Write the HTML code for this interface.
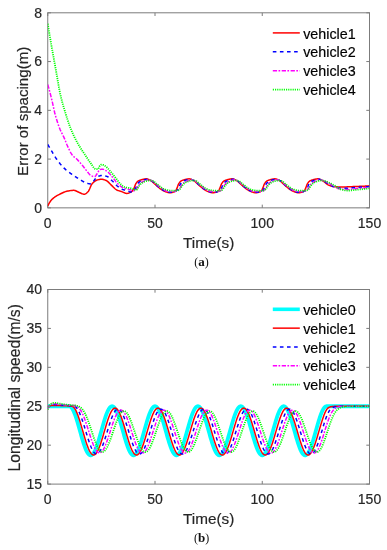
<!DOCTYPE html>
<html lang="en"><head><meta charset="utf-8"><title>Figure</title>
<style>html,body{margin:0;padding:0;background:#fff}svg{display:block}</style></head>
<body>
<svg width="387" height="550" viewBox="0 0 387 550">
<rect width="387" height="550" fill="#ffffff"/>
<g stroke="#7c7c7c" stroke-width="1" fill="none">
<rect x="47.75" y="12.8" width="321.75" height="195.04999999999998"/>
<path d="M47.75 207.85v-3.2M47.75 12.8v3.2"/>
<path d="M155.00 207.85v-3.2M155.00 12.8v3.2"/>
<path d="M262.25 207.85v-3.2M262.25 12.8v3.2"/>
<path d="M369.50 207.85v-3.2M369.50 12.8v3.2"/>
<path d="M47.75 207.85h3.2M369.5 207.85h-3.2"/>
<path d="M47.75 159.09h3.2M369.5 159.09h-3.2"/>
<path d="M47.75 110.33h3.2M369.5 110.33h-3.2"/>
<path d="M47.75 61.56h3.2M369.5 61.56h-3.2"/>
<path d="M47.75 12.80h3.2M369.5 12.80h-3.2"/>
</g>
<g font-family="'Liberation Sans', Arial, Helvetica, sans-serif" font-size="14" fill="#262626" stroke="#262626" stroke-width="0.18">
<text x="47.75" y="227.55" text-anchor="middle">0</text>
<text x="155.00" y="227.55" text-anchor="middle">50</text>
<text x="262.25" y="227.55" text-anchor="middle">100</text>
<text x="369.50" y="227.55" text-anchor="middle">150</text>
<text x="42.15" y="212.75" text-anchor="end">0</text>
<text x="42.15" y="163.99" text-anchor="end">2</text>
<text x="42.15" y="115.23" text-anchor="end">4</text>
<text x="42.15" y="66.46" text-anchor="end">6</text>
<text x="42.15" y="17.70" text-anchor="end">8</text>
</g>
<g font-family="'Liberation Sans', Arial, Helvetica, sans-serif" font-size="15.3" fill="#262626" stroke="#262626" stroke-width="0.18">
<text x="208.62" y="247.65" text-anchor="middle">Time(s)</text>
<text transform="translate(28.4 111.3) rotate(-90)" text-anchor="middle" font-size="15.1">Error of spacing(m)</text>
</g>
<clipPath id="ca"><rect x="47.75" y="12.8" width="321.75" height="195.04999999999998"/></clipPath>
<g fill="none" stroke-width="1.5" stroke-linejoin="round" clip-path="url(#ca)">
<polyline stroke="#ff0000"  points="47.75,205.80 48.29,204.83 48.82,203.88 49.36,202.96 49.90,202.09 50.43,201.27 50.97,200.53 51.50,199.87 52.04,199.31 52.58,198.82 53.11,198.35 53.65,197.91 54.19,197.49 54.72,197.10 55.26,196.73 55.79,196.38 56.33,196.04 56.87,195.72 57.40,195.42 57.94,195.13 58.48,194.84 59.01,194.57 59.55,194.30 60.08,194.03 60.62,193.76 61.16,193.49 61.69,193.23 62.23,192.97 62.77,192.72 63.30,192.48 63.84,192.25 64.37,192.03 64.91,191.83 65.45,191.64 65.98,191.47 66.52,191.32 67.06,191.19 67.59,191.08 68.13,190.99 68.66,190.89 69.20,190.80 69.74,190.71 70.27,190.63 70.81,190.56 71.34,190.49 71.88,190.43 72.42,190.39 72.95,190.36 73.49,190.34 74.03,190.33 74.56,190.39 75.10,190.52 75.64,190.71 76.17,190.95 76.71,191.21 77.24,191.50 77.78,191.78 78.32,192.05 78.85,192.29 79.39,192.50 79.92,192.73 80.46,192.97 81.00,193.22 81.53,193.47 82.07,193.69 82.61,193.89 83.14,194.05 83.68,194.15 84.22,194.20 84.75,194.14 85.29,193.95 85.82,193.66 86.36,193.28 86.90,192.82 87.43,192.32 87.97,191.80 88.50,191.17 89.04,190.22 89.58,189.03 90.11,187.73 90.65,186.43 91.19,185.23 91.72,184.27 92.26,183.62 92.80,183.05 93.33,182.52 93.87,182.02 94.40,181.57 94.94,181.16 95.48,180.80 96.01,180.49 96.55,180.24 97.09,180.05 97.62,179.90 98.16,179.75 98.69,179.62 99.23,179.51 99.77,179.41 100.30,179.33 100.84,179.27 101.38,179.25 101.91,179.25 102.45,179.31 102.98,179.40 103.52,179.53 104.06,179.70 104.59,179.88 105.13,180.08 105.66,180.30 106.20,180.53 106.74,180.80 107.27,181.16 107.81,181.60 108.35,182.09 108.88,182.63 109.42,183.19 109.95,183.75 110.49,184.31 111.03,184.84 111.56,185.34 112.10,185.85 112.64,186.39 113.17,186.94 113.71,187.49 114.25,188.02 114.78,188.53 115.32,188.99 115.85,189.40 116.39,189.73 116.93,190.00 117.46,190.23 118.00,190.44 118.53,190.62 119.07,190.80 119.61,190.96 120.14,191.12 120.68,191.28 121.22,191.45 121.75,191.63 122.29,191.84 122.83,192.07 123.36,192.32 123.90,192.57 124.43,192.81 124.97,193.02 125.51,193.20 126.04,193.34 126.58,193.41 127.11,193.42 127.65,193.36 128.19,193.24 128.72,193.08 129.26,192.88 129.80,192.64 130.33,192.36 130.87,192.07 131.41,191.76 131.94,191.36 132.48,190.80 133.01,190.11 133.55,189.32 134.09,188.18 134.62,186.67 135.16,185.14 135.69,183.96 136.23,183.10 136.77,182.34 137.30,181.72 137.84,181.27 138.38,180.95 138.91,180.67 139.45,180.42 139.99,180.21 140.52,180.02 141.06,179.85 141.59,179.70 142.13,179.57 142.67,179.44 143.20,179.31 143.74,179.19 144.28,179.07 144.81,178.98 145.35,178.90 145.88,178.85 146.42,178.84 146.96,178.88 147.49,178.99 148.03,179.17 148.56,179.40 149.10,179.66 149.64,179.95 150.17,180.25 150.71,180.54 151.25,180.87 151.78,181.27 152.32,181.72 152.86,182.21 153.39,182.72 153.93,183.23 154.46,183.73 155.00,184.20 155.54,184.66 156.07,185.13 156.61,185.61 157.14,186.10 157.68,186.58 158.22,187.06 158.75,187.53 159.29,187.98 159.83,188.42 160.36,188.83 160.90,189.21 161.44,189.56 161.97,189.90 162.51,190.22 163.04,190.53 163.58,190.83 164.12,191.10 164.65,191.35 165.19,191.57 165.72,191.76 166.26,191.93 166.80,192.10 167.33,192.26 167.87,192.41 168.41,192.54 168.94,192.64 169.48,192.71 170.01,192.73 170.55,192.72 171.09,192.66 171.62,192.58 172.16,192.47 172.70,192.32 173.23,192.16 173.77,191.97 174.31,191.76 174.84,191.41 175.38,190.85 175.91,190.13 176.45,189.32 176.99,188.18 177.52,186.67 178.06,185.14 178.59,183.96 179.13,183.10 179.67,182.34 180.20,181.72 180.74,181.27 181.28,180.95 181.81,180.67 182.35,180.42 182.88,180.21 183.42,180.02 183.96,179.85 184.49,179.70 185.03,179.57 185.57,179.44 186.10,179.31 186.64,179.19 187.18,179.07 187.71,178.98 188.25,178.90 188.78,178.85 189.32,178.84 189.86,178.88 190.39,178.99 190.93,179.17 191.47,179.40 192.00,179.66 192.54,179.95 193.07,180.25 193.61,180.54 194.15,180.87 194.68,181.27 195.22,181.72 195.75,182.21 196.29,182.72 196.83,183.23 197.36,183.73 197.90,184.20 198.44,184.66 198.97,185.13 199.51,185.61 200.04,186.10 200.58,186.58 201.12,187.06 201.65,187.53 202.19,187.98 202.73,188.42 203.26,188.83 203.80,189.21 204.34,189.56 204.87,189.90 205.41,190.22 205.94,190.53 206.48,190.83 207.02,191.10 207.55,191.35 208.09,191.57 208.62,191.76 209.16,191.93 209.70,192.10 210.23,192.26 210.77,192.41 211.31,192.54 211.84,192.64 212.38,192.71 212.91,192.73 213.45,192.72 213.99,192.66 214.52,192.58 215.06,192.47 215.60,192.32 216.13,192.16 216.67,191.97 217.21,191.76 217.74,191.41 218.28,190.85 218.81,190.13 219.35,189.32 219.89,188.18 220.42,186.67 220.96,185.14 221.50,183.96 222.03,183.10 222.57,182.34 223.10,181.72 223.64,181.27 224.18,180.95 224.71,180.67 225.25,180.42 225.78,180.21 226.32,180.02 226.86,179.85 227.39,179.70 227.93,179.57 228.47,179.44 229.00,179.31 229.54,179.19 230.07,179.07 230.61,178.98 231.15,178.90 231.68,178.85 232.22,178.84 232.76,178.88 233.29,178.99 233.83,179.17 234.37,179.40 234.90,179.66 235.44,179.95 235.97,180.25 236.51,180.54 237.05,180.87 237.58,181.27 238.12,181.72 238.66,182.21 239.19,182.72 239.73,183.23 240.26,183.73 240.80,184.20 241.34,184.66 241.87,185.13 242.41,185.61 242.94,186.10 243.48,186.58 244.02,187.06 244.55,187.53 245.09,187.98 245.63,188.42 246.16,188.83 246.70,189.21 247.24,189.56 247.77,189.90 248.31,190.22 248.84,190.53 249.38,190.83 249.92,191.10 250.45,191.35 250.99,191.57 251.53,191.76 252.06,191.93 252.60,192.10 253.13,192.26 253.67,192.41 254.21,192.54 254.74,192.64 255.28,192.71 255.81,192.73 256.35,192.72 256.89,192.66 257.42,192.58 257.96,192.47 258.50,192.32 259.03,192.16 259.57,191.97 260.11,191.76 260.64,191.41 261.18,190.85 261.71,190.13 262.25,189.32 262.79,188.18 263.32,186.67 263.86,185.14 264.39,183.96 264.93,183.10 265.47,182.34 266.00,181.72 266.54,181.27 267.08,180.95 267.61,180.67 268.15,180.42 268.69,180.21 269.22,180.02 269.76,179.85 270.29,179.70 270.83,179.57 271.37,179.44 271.90,179.31 272.44,179.19 272.98,179.07 273.51,178.98 274.05,178.90 274.58,178.85 275.12,178.84 275.66,178.88 276.19,178.99 276.73,179.17 277.26,179.40 277.80,179.66 278.34,179.95 278.87,180.25 279.41,180.54 279.95,180.87 280.48,181.27 281.02,181.72 281.56,182.21 282.09,182.72 282.63,183.23 283.16,183.73 283.70,184.20 284.24,184.66 284.77,185.13 285.31,185.61 285.85,186.10 286.38,186.58 286.92,187.06 287.45,187.53 287.99,187.98 288.53,188.42 289.06,188.83 289.60,189.21 290.13,189.56 290.67,189.90 291.21,190.22 291.74,190.53 292.28,190.83 292.82,191.10 293.35,191.35 293.89,191.57 294.43,191.76 294.96,191.93 295.50,192.10 296.03,192.26 296.57,192.41 297.11,192.54 297.64,192.64 298.18,192.71 298.72,192.73 299.25,192.72 299.79,192.66 300.32,192.58 300.86,192.47 301.40,192.32 301.93,192.16 302.47,191.97 303.00,191.76 303.54,191.41 304.08,190.85 304.61,190.13 305.15,189.32 305.69,188.18 306.22,186.67 306.76,185.14 307.30,183.96 307.83,183.10 308.37,182.34 308.90,181.72 309.44,181.27 309.98,180.95 310.51,180.67 311.05,180.42 311.58,180.21 312.12,180.02 312.66,179.85 313.19,179.70 313.73,179.57 314.27,179.44 314.80,179.31 315.34,179.19 315.88,179.07 316.41,178.98 316.95,178.90 317.48,178.85 318.02,178.84 318.56,178.88 319.09,179.00 319.63,179.19 320.17,179.42 320.70,179.69 321.24,179.97 321.77,180.26 322.31,180.54 322.85,180.84 323.38,181.20 323.92,181.60 324.45,182.04 324.99,182.49 325.53,182.95 326.06,183.40 326.60,183.84 327.14,184.25 327.67,184.62 328.21,184.93 328.75,185.18 329.28,185.38 329.82,185.58 330.35,185.77 330.89,185.95 331.43,186.11 331.96,186.26 332.50,186.39 333.04,186.49 333.57,186.58 334.11,186.64 334.64,186.68 335.18,186.73 335.72,186.77 336.25,186.80 336.79,186.84 337.32,186.87 337.86,186.90 338.40,186.93 338.93,186.95 339.47,186.97 340.01,186.98 340.54,187.00 341.08,187.00 341.62,187.00 342.15,187.00 342.69,187.00 343.22,186.99 343.76,186.98 344.30,186.97 344.83,186.95 345.37,186.93 345.90,186.91 346.44,186.89 346.98,186.87 347.51,186.85 348.05,186.83 348.59,186.80 349.12,186.78 349.66,186.75 350.19,186.73 350.73,186.70 351.27,186.68 351.80,186.66 352.34,186.64 352.88,186.62 353.41,186.60 353.95,186.58 354.49,186.56 355.02,186.54 355.56,186.51 356.09,186.49 356.63,186.47 357.17,186.45 357.70,186.43 358.24,186.41 358.77,186.38 359.31,186.36 359.85,186.34 360.38,186.32 360.92,186.29 361.46,186.27 361.99,186.25 362.53,186.23 363.06,186.20 363.60,186.18 364.14,186.15 364.67,186.13 365.21,186.11 365.75,186.08 366.28,186.06 366.82,186.03 367.36,186.01 367.89,185.98 368.43,185.96 368.96,185.93 369.50,185.91"/>
<polyline stroke="#0000ff" stroke-dasharray="3.6 3.5" points="47.75,144.44 48.29,145.37 48.82,146.30 49.36,147.22 49.90,148.14 50.43,149.04 50.97,149.95 51.50,150.84 52.04,151.73 52.58,152.62 53.11,153.52 53.65,154.41 54.19,155.31 54.72,156.19 55.26,157.06 55.79,157.90 56.33,158.71 56.87,159.49 57.40,160.24 57.94,160.96 58.48,161.68 59.01,162.37 59.55,163.05 60.08,163.72 60.62,164.37 61.16,165.00 61.69,165.61 62.23,166.20 62.77,166.77 63.30,167.33 63.84,167.86 64.37,168.37 64.91,168.87 65.45,169.35 65.98,169.82 66.52,170.27 67.06,170.72 67.59,171.15 68.13,171.58 68.66,171.99 69.20,172.40 69.74,172.81 70.27,173.21 70.81,173.60 71.34,173.98 71.88,174.36 72.42,174.73 72.95,175.10 73.49,175.46 74.03,175.82 74.56,176.17 75.10,176.51 75.64,176.86 76.17,177.19 76.71,177.53 77.24,177.86 77.78,178.19 78.32,178.52 78.85,178.86 79.39,179.20 79.92,179.54 80.46,179.88 81.00,180.22 81.53,180.55 82.07,180.87 82.61,181.18 83.14,181.48 83.68,181.76 84.22,182.03 84.75,182.27 85.29,182.49 85.82,182.69 86.36,182.89 86.90,183.10 87.43,183.29 87.97,183.48 88.50,183.63 89.04,183.76 89.58,183.85 90.11,183.88 90.65,183.80 91.19,183.48 91.72,183.00 92.26,182.43 92.80,181.84 93.33,181.29 93.87,180.70 94.40,180.03 94.94,179.30 95.48,178.59 96.01,177.93 96.55,177.37 97.09,176.98 97.62,176.71 98.16,176.47 98.69,176.24 99.23,176.02 99.77,175.84 100.30,175.67 100.84,175.54 101.38,175.45 101.91,175.39 102.45,175.38 102.98,175.40 103.52,175.47 104.06,175.56 104.59,175.68 105.13,175.83 105.66,175.99 106.20,176.17 106.74,176.37 107.27,176.57 107.81,176.80 108.35,177.11 108.88,177.51 109.42,177.97 109.95,178.49 110.49,179.04 111.03,179.61 111.56,180.18 112.10,180.74 112.64,181.27 113.17,181.79 113.71,182.35 114.25,182.92 114.78,183.50 115.32,184.08 115.85,184.64 116.39,185.19 116.93,185.70 117.46,186.17 118.00,186.58 118.53,186.98 119.07,187.36 119.61,187.73 120.14,188.09 120.68,188.42 121.22,188.74 121.75,189.02 122.29,189.27 122.83,189.49 123.36,189.68 123.90,189.83 124.43,189.96 124.97,190.07 125.51,190.18 126.04,190.29 126.58,190.40 127.11,190.53 127.65,190.68 128.19,190.85 128.72,191.15 129.26,191.53 129.80,191.86 130.33,192.00 130.87,191.96 131.41,191.83 131.94,191.64 132.48,191.39 133.01,191.10 133.55,190.78 134.09,190.30 134.62,189.59 135.16,188.75 135.69,187.86 136.23,186.80 136.77,185.56 137.30,184.37 137.84,183.47 138.38,182.84 138.91,182.31 139.45,181.87 139.99,181.52 140.52,181.22 141.06,180.95 141.59,180.70 142.13,180.47 142.67,180.27 143.20,180.09 143.74,179.94 144.28,179.81 144.81,179.70 145.35,179.58 145.88,179.48 146.42,179.40 146.96,179.34 147.49,179.32 148.03,179.36 148.56,179.47 149.10,179.64 149.64,179.85 150.17,180.08 150.71,180.34 151.25,180.60 151.78,180.92 152.32,181.32 152.86,181.78 153.39,182.29 153.93,182.81 154.46,183.33 155.00,183.83 155.54,184.29 156.07,184.74 156.61,185.19 157.14,185.65 157.68,186.11 158.22,186.57 158.75,187.02 159.29,187.46 159.83,187.88 160.36,188.29 160.90,188.68 161.44,189.05 161.97,189.39 162.51,189.72 163.04,190.04 163.58,190.36 164.12,190.66 164.65,190.93 165.19,191.18 165.72,191.38 166.26,191.54 166.80,191.69 167.33,191.83 167.87,191.96 168.41,192.08 168.94,192.17 169.48,192.23 170.01,192.25 170.55,192.24 171.09,192.21 171.62,192.17 172.16,192.13 172.70,192.07 173.23,192.00 173.77,191.91 174.31,191.77 174.84,191.59 175.38,191.36 175.91,191.09 176.45,190.78 176.99,190.30 177.52,189.59 178.06,188.75 178.59,187.86 179.13,186.80 179.67,185.56 180.20,184.37 180.74,183.47 181.28,182.84 181.81,182.31 182.35,181.87 182.88,181.52 183.42,181.22 183.96,180.95 184.49,180.70 185.03,180.47 185.57,180.27 186.10,180.09 186.64,179.94 187.18,179.81 187.71,179.70 188.25,179.58 188.78,179.48 189.32,179.40 189.86,179.34 190.39,179.32 190.93,179.36 191.47,179.47 192.00,179.64 192.54,179.85 193.07,180.08 193.61,180.34 194.15,180.60 194.68,180.92 195.22,181.32 195.75,181.78 196.29,182.29 196.83,182.81 197.36,183.33 197.90,183.83 198.44,184.29 198.97,184.74 199.51,185.19 200.04,185.65 200.58,186.11 201.12,186.57 201.65,187.02 202.19,187.46 202.73,187.88 203.26,188.29 203.80,188.68 204.34,189.05 204.87,189.39 205.41,189.72 205.94,190.04 206.48,190.36 207.02,190.66 207.55,190.93 208.09,191.18 208.62,191.38 209.16,191.54 209.70,191.69 210.23,191.83 210.77,191.96 211.31,192.08 211.84,192.17 212.38,192.23 212.91,192.25 213.45,192.24 213.99,192.21 214.52,192.17 215.06,192.13 215.60,192.07 216.13,192.00 216.67,191.91 217.21,191.77 217.74,191.59 218.28,191.36 218.81,191.09 219.35,190.78 219.89,190.30 220.42,189.59 220.96,188.75 221.50,187.86 222.03,186.80 222.57,185.56 223.10,184.37 223.64,183.47 224.18,182.84 224.71,182.31 225.25,181.87 225.78,181.52 226.32,181.22 226.86,180.95 227.39,180.70 227.93,180.47 228.47,180.27 229.00,180.09 229.54,179.94 230.07,179.81 230.61,179.70 231.15,179.58 231.68,179.48 232.22,179.40 232.76,179.34 233.29,179.32 233.83,179.36 234.37,179.47 234.90,179.64 235.44,179.85 235.97,180.08 236.51,180.34 237.05,180.60 237.58,180.92 238.12,181.32 238.66,181.78 239.19,182.29 239.73,182.81 240.26,183.33 240.80,183.83 241.34,184.29 241.87,184.74 242.41,185.19 242.94,185.65 243.48,186.11 244.02,186.57 244.55,187.02 245.09,187.46 245.63,187.88 246.16,188.29 246.70,188.68 247.24,189.05 247.77,189.39 248.31,189.72 248.84,190.04 249.38,190.36 249.92,190.66 250.45,190.93 250.99,191.18 251.53,191.38 252.06,191.54 252.60,191.69 253.13,191.83 253.67,191.96 254.21,192.08 254.74,192.17 255.28,192.23 255.81,192.25 256.35,192.24 256.89,192.21 257.42,192.17 257.96,192.13 258.50,192.07 259.03,192.00 259.57,191.91 260.11,191.77 260.64,191.59 261.18,191.36 261.71,191.09 262.25,190.78 262.79,190.30 263.32,189.59 263.86,188.75 264.39,187.86 264.93,186.80 265.47,185.56 266.00,184.37 266.54,183.47 267.08,182.84 267.61,182.31 268.15,181.87 268.69,181.52 269.22,181.22 269.76,180.95 270.29,180.70 270.83,180.47 271.37,180.27 271.90,180.09 272.44,179.94 272.98,179.81 273.51,179.70 274.05,179.58 274.58,179.48 275.12,179.40 275.66,179.34 276.19,179.32 276.73,179.36 277.26,179.47 277.80,179.64 278.34,179.85 278.87,180.08 279.41,180.34 279.95,180.60 280.48,180.92 281.02,181.32 281.56,181.78 282.09,182.29 282.63,182.81 283.16,183.33 283.70,183.83 284.24,184.29 284.77,184.74 285.31,185.19 285.85,185.65 286.38,186.11 286.92,186.57 287.45,187.02 287.99,187.46 288.53,187.88 289.06,188.29 289.60,188.68 290.13,189.05 290.67,189.39 291.21,189.72 291.74,190.04 292.28,190.36 292.82,190.66 293.35,190.93 293.89,191.18 294.43,191.38 294.96,191.54 295.50,191.69 296.03,191.83 296.57,191.96 297.11,192.08 297.64,192.17 298.18,192.23 298.72,192.25 299.25,192.24 299.79,192.21 300.32,192.17 300.86,192.13 301.40,192.07 301.93,192.00 302.47,191.91 303.00,191.77 303.54,191.59 304.08,191.36 304.61,191.09 305.15,190.78 305.69,190.30 306.22,189.59 306.76,188.75 307.30,187.86 307.83,186.80 308.37,185.56 308.90,184.37 309.44,183.47 309.98,182.84 310.51,182.31 311.05,181.87 311.58,181.52 312.12,181.22 312.66,180.95 313.19,180.70 313.73,180.47 314.27,180.27 314.80,180.09 315.34,179.94 315.88,179.81 316.41,179.70 316.95,179.58 317.48,179.48 318.02,179.40 318.56,179.34 319.09,179.32 319.63,179.37 320.17,179.49 320.70,179.66 321.24,179.88 321.77,180.12 322.31,180.36 322.85,180.59 323.38,180.83 323.92,181.11 324.45,181.41 324.99,181.73 325.53,182.06 326.06,182.41 326.60,182.77 327.14,183.13 327.67,183.49 328.21,183.85 328.75,184.20 329.28,184.53 329.82,184.85 330.35,185.15 330.89,185.42 331.43,185.68 331.96,185.95 332.50,186.22 333.04,186.48 333.57,186.73 334.11,186.96 334.64,187.17 335.18,187.36 335.72,187.50 336.25,187.61 336.79,187.70 337.32,187.78 337.86,187.86 338.40,187.94 338.93,188.01 339.47,188.07 340.01,188.13 340.54,188.19 341.08,188.23 341.62,188.27 342.15,188.30 342.69,188.33 343.22,188.34 343.76,188.34 344.30,188.34 344.83,188.33 345.37,188.32 345.90,188.29 346.44,188.27 346.98,188.23 347.51,188.20 348.05,188.16 348.59,188.12 349.12,188.07 349.66,188.03 350.19,187.98 350.73,187.93 351.27,187.88 351.80,187.83 352.34,187.79 352.88,187.74 353.41,187.70 353.95,187.65 354.49,187.61 355.02,187.58 355.56,187.54 356.09,187.50 356.63,187.46 357.17,187.42 357.70,187.39 358.24,187.35 358.77,187.31 359.31,187.27 359.85,187.23 360.38,187.19 360.92,187.15 361.46,187.11 361.99,187.08 362.53,187.04 363.06,187.00 363.60,186.96 364.14,186.92 364.67,186.88 365.21,186.84 365.75,186.80 366.28,186.76 366.82,186.72 367.36,186.68 367.89,186.64 368.43,186.60 368.96,186.56 369.50,186.52"/>
<polyline stroke="#ff00ff" stroke-dasharray="4.3 1.4 1.7 1.5" points="47.75,84.48 48.29,86.34 48.82,88.26 49.36,90.22 49.90,92.24 50.43,94.29 50.97,96.40 51.50,98.54 52.04,100.73 52.58,103.09 53.11,105.56 53.65,108.06 54.19,110.48 54.72,112.74 55.26,114.77 55.79,116.69 56.33,118.55 56.87,120.33 57.40,122.04 57.94,123.68 58.48,125.24 59.01,126.72 59.55,128.12 60.08,129.43 60.62,130.65 61.16,131.79 61.69,132.88 62.23,133.94 62.77,135.00 63.30,136.08 63.84,137.19 64.37,138.36 64.91,139.62 65.45,140.97 65.98,142.35 66.52,143.71 67.06,145.01 67.59,146.20 68.13,147.35 68.66,148.50 69.20,149.63 69.74,150.72 70.27,151.77 70.81,152.76 71.34,153.68 71.88,154.51 72.42,155.24 72.95,155.86 73.49,156.39 74.03,156.85 74.56,157.28 75.10,157.68 75.64,158.10 76.17,158.55 76.71,159.05 77.24,159.59 77.78,160.14 78.32,160.71 78.85,161.30 79.39,161.89 79.92,162.50 80.46,163.12 81.00,163.74 81.53,164.37 82.07,165.00 82.61,165.65 83.14,166.32 83.68,167.00 84.22,167.69 84.75,168.38 85.29,169.06 85.82,169.74 86.36,170.40 86.90,171.04 87.43,171.71 87.97,172.43 88.50,173.14 89.04,173.82 89.58,174.44 90.11,174.95 90.65,175.34 91.19,175.61 91.72,175.87 92.26,176.11 92.80,176.32 93.33,176.49 93.87,176.60 94.40,176.66 94.94,176.57 95.48,176.10 96.01,175.37 96.55,174.52 97.09,173.71 97.62,172.90 98.16,171.91 98.69,170.93 99.23,170.14 99.77,169.71 100.30,169.53 100.84,169.38 101.38,169.27 101.91,169.21 102.45,169.19 102.98,169.25 103.52,169.39 104.06,169.59 104.59,169.85 105.13,170.15 105.66,170.49 106.20,170.85 106.74,171.23 107.27,171.60 107.81,171.99 108.35,172.44 108.88,172.95 109.42,173.52 109.95,174.13 110.49,174.77 111.03,175.43 111.56,176.09 112.10,176.75 112.64,177.39 113.17,178.04 113.71,178.73 114.25,179.44 114.78,180.17 115.32,180.89 115.85,181.60 116.39,182.29 116.93,182.93 117.46,183.51 118.00,184.03 118.53,184.53 119.07,185.02 119.61,185.49 120.14,185.93 120.68,186.36 121.22,186.75 121.75,187.10 122.29,187.41 122.83,187.68 123.36,187.90 123.90,188.09 124.43,188.28 124.97,188.44 125.51,188.60 126.04,188.74 126.58,188.87 127.11,189.00 127.65,189.13 128.19,189.25 128.72,189.38 129.26,189.51 129.80,189.64 130.33,189.80 130.87,189.96 131.41,190.12 131.94,190.28 132.48,190.43 133.01,190.56 133.55,190.66 134.09,190.74 134.62,190.78 135.16,190.69 135.69,190.17 136.23,189.37 136.77,188.43 137.30,187.53 137.84,186.69 138.38,185.74 138.91,184.82 139.45,184.07 139.99,183.53 140.52,183.07 141.06,182.66 141.59,182.31 142.13,182.01 142.67,181.73 143.20,181.49 143.74,181.26 144.28,181.05 144.81,180.86 145.35,180.68 145.88,180.51 146.42,180.32 146.96,180.14 147.49,179.97 148.03,179.86 148.56,179.81 149.10,179.85 149.64,179.94 150.17,180.08 150.71,180.26 151.25,180.46 151.78,180.66 152.32,180.93 152.86,181.29 153.39,181.73 153.93,182.21 154.46,182.71 155.00,183.22 155.54,183.69 156.07,184.13 156.61,184.55 157.14,184.98 157.68,185.42 158.22,185.85 158.75,186.28 159.29,186.71 159.83,187.12 160.36,187.53 160.90,187.91 161.44,188.28 161.97,188.63 162.51,188.96 163.04,189.30 163.58,189.63 164.12,189.95 164.65,190.25 165.19,190.53 165.72,190.76 166.26,190.95 166.80,191.07 167.33,191.19 167.87,191.29 168.41,191.38 168.94,191.45 169.48,191.50 170.01,191.51 170.55,191.51 171.09,191.51 171.62,191.51 172.16,191.51 172.70,191.51 173.23,191.51 173.77,191.51 174.31,191.51 174.84,191.49 175.38,191.43 175.91,191.34 176.45,191.21 176.99,191.05 177.52,190.86 178.06,190.59 178.59,190.03 179.13,189.25 179.67,188.38 180.20,187.53 180.74,186.69 181.28,185.74 181.81,184.82 182.35,184.07 182.88,183.53 183.42,183.07 183.96,182.66 184.49,182.31 185.03,182.01 185.57,181.73 186.10,181.49 186.64,181.26 187.18,181.05 187.71,180.86 188.25,180.68 188.78,180.51 189.32,180.32 189.86,180.14 190.39,179.97 190.93,179.86 191.47,179.81 192.00,179.85 192.54,179.94 193.07,180.08 193.61,180.26 194.15,180.46 194.68,180.66 195.22,180.93 195.75,181.29 196.29,181.73 196.83,182.21 197.36,182.71 197.90,183.22 198.44,183.69 198.97,184.13 199.51,184.55 200.04,184.98 200.58,185.42 201.12,185.85 201.65,186.28 202.19,186.71 202.73,187.12 203.26,187.53 203.80,187.91 204.34,188.28 204.87,188.63 205.41,188.96 205.94,189.30 206.48,189.63 207.02,189.95 207.55,190.25 208.09,190.53 208.62,190.76 209.16,190.95 209.70,191.07 210.23,191.19 210.77,191.29 211.31,191.38 211.84,191.45 212.38,191.50 212.91,191.51 213.45,191.51 213.99,191.51 214.52,191.51 215.06,191.51 215.60,191.51 216.13,191.51 216.67,191.51 217.21,191.51 217.74,191.49 218.28,191.43 218.81,191.34 219.35,191.21 219.89,191.05 220.42,190.86 220.96,190.59 221.50,190.03 222.03,189.25 222.57,188.38 223.10,187.53 223.64,186.69 224.18,185.74 224.71,184.82 225.25,184.07 225.78,183.53 226.32,183.07 226.86,182.66 227.39,182.31 227.93,182.01 228.47,181.73 229.00,181.49 229.54,181.26 230.07,181.05 230.61,180.86 231.15,180.68 231.68,180.51 232.22,180.32 232.76,180.14 233.29,179.97 233.83,179.86 234.37,179.81 234.90,179.85 235.44,179.94 235.97,180.08 236.51,180.26 237.05,180.46 237.58,180.66 238.12,180.93 238.66,181.29 239.19,181.73 239.73,182.21 240.26,182.71 240.80,183.22 241.34,183.69 241.87,184.13 242.41,184.55 242.94,184.98 243.48,185.42 244.02,185.85 244.55,186.28 245.09,186.71 245.63,187.12 246.16,187.53 246.70,187.91 247.24,188.28 247.77,188.63 248.31,188.96 248.84,189.30 249.38,189.63 249.92,189.95 250.45,190.25 250.99,190.53 251.53,190.76 252.06,190.95 252.60,191.07 253.13,191.19 253.67,191.29 254.21,191.38 254.74,191.45 255.28,191.50 255.81,191.51 256.35,191.51 256.89,191.51 257.42,191.51 257.96,191.51 258.50,191.51 259.03,191.51 259.57,191.51 260.11,191.51 260.64,191.49 261.18,191.43 261.71,191.34 262.25,191.21 262.79,191.05 263.32,190.86 263.86,190.59 264.39,190.03 264.93,189.25 265.47,188.38 266.00,187.53 266.54,186.69 267.08,185.74 267.61,184.82 268.15,184.07 268.69,183.53 269.22,183.07 269.76,182.66 270.29,182.31 270.83,182.01 271.37,181.73 271.90,181.49 272.44,181.26 272.98,181.05 273.51,180.86 274.05,180.68 274.58,180.51 275.12,180.32 275.66,180.14 276.19,179.97 276.73,179.86 277.26,179.81 277.80,179.85 278.34,179.94 278.87,180.08 279.41,180.26 279.95,180.46 280.48,180.66 281.02,180.93 281.56,181.29 282.09,181.73 282.63,182.21 283.16,182.71 283.70,183.22 284.24,183.69 284.77,184.13 285.31,184.55 285.85,184.98 286.38,185.42 286.92,185.85 287.45,186.28 287.99,186.71 288.53,187.12 289.06,187.53 289.60,187.91 290.13,188.28 290.67,188.63 291.21,188.96 291.74,189.30 292.28,189.63 292.82,189.95 293.35,190.25 293.89,190.53 294.43,190.76 294.96,190.95 295.50,191.07 296.03,191.19 296.57,191.29 297.11,191.38 297.64,191.45 298.18,191.50 298.72,191.51 299.25,191.51 299.79,191.51 300.32,191.51 300.86,191.51 301.40,191.51 301.93,191.51 302.47,191.51 303.00,191.51 303.54,191.49 304.08,191.43 304.61,191.34 305.15,191.21 305.69,191.05 306.22,190.86 306.76,190.59 307.30,190.03 307.83,189.25 308.37,188.38 308.90,187.53 309.44,186.69 309.98,185.74 310.51,184.82 311.05,184.07 311.58,183.53 312.12,183.07 312.66,182.66 313.19,182.31 313.73,182.01 314.27,181.73 314.80,181.49 315.34,181.26 315.88,181.05 316.41,180.86 316.95,180.68 317.48,180.51 318.02,180.32 318.56,180.14 319.09,179.97 319.63,179.86 320.17,179.81 320.70,179.85 321.24,179.95 321.77,180.10 322.31,180.28 322.85,180.48 323.38,180.66 323.92,180.85 324.45,181.06 324.99,181.29 325.53,181.53 326.06,181.79 326.60,182.06 327.14,182.34 327.67,182.63 328.21,182.92 328.75,183.23 329.28,183.53 329.82,183.84 330.35,184.15 330.89,184.46 331.43,184.77 331.96,185.08 332.50,185.37 333.04,185.66 333.57,185.97 334.11,186.30 334.64,186.64 335.18,186.99 335.72,187.34 336.25,187.67 336.79,187.97 337.32,188.23 337.86,188.44 338.40,188.59 338.93,188.70 339.47,188.81 340.01,188.92 340.54,189.02 341.08,189.11 341.62,189.20 342.15,189.28 342.69,189.35 343.22,189.41 343.76,189.47 344.30,189.51 344.83,189.54 345.37,189.56 345.90,189.56 346.44,189.56 346.98,189.55 347.51,189.52 348.05,189.49 348.59,189.46 349.12,189.42 349.66,189.37 350.19,189.32 350.73,189.26 351.27,189.20 351.80,189.14 352.34,189.08 352.88,189.01 353.41,188.95 353.95,188.88 354.49,188.82 355.02,188.76 355.56,188.70 356.09,188.64 356.63,188.59 357.17,188.54 357.70,188.49 358.24,188.44 358.77,188.39 359.31,188.34 359.85,188.29 360.38,188.24 360.92,188.19 361.46,188.14 361.99,188.09 362.53,188.04 363.06,187.99 363.60,187.93 364.14,187.88 364.67,187.83 365.21,187.78 365.75,187.73 366.28,187.68 366.82,187.63 367.36,187.58 367.89,187.53 368.43,187.47 368.96,187.42 369.50,187.37"/>
<polyline stroke="#00ff00" stroke-width="1.8" stroke-dasharray="1.15 1.05" points="47.75,23.77 48.29,27.00 48.82,30.20 49.36,33.38 49.90,36.54 50.43,39.66 50.97,42.76 51.50,45.84 52.04,48.87 52.58,51.87 53.11,54.84 53.65,57.79 54.19,60.72 54.72,63.65 55.26,66.57 55.79,69.51 56.33,72.49 56.87,75.56 57.40,78.68 57.94,81.79 58.48,84.85 59.01,87.82 59.55,90.63 60.08,93.26 60.62,95.65 61.16,97.90 61.69,100.02 62.23,102.05 62.77,104.00 63.30,105.88 63.84,107.71 64.37,109.51 64.91,111.30 65.45,113.08 65.98,114.83 66.52,116.55 67.06,118.25 67.59,119.90 68.13,121.52 68.66,123.08 69.20,124.60 69.74,126.06 70.27,127.46 70.81,128.82 71.34,130.13 71.88,131.41 72.42,132.66 72.95,133.87 73.49,135.05 74.03,136.19 74.56,137.31 75.10,138.39 75.64,139.45 76.17,140.48 76.71,141.48 77.24,142.45 77.78,143.40 78.32,144.33 78.85,145.24 79.39,146.13 79.92,147.02 80.46,147.89 81.00,148.74 81.53,149.58 82.07,150.39 82.61,151.19 83.14,151.97 83.68,152.76 84.22,153.54 84.75,154.32 85.29,155.11 85.82,155.92 86.36,156.74 86.90,157.57 87.43,158.41 87.97,159.25 88.50,160.07 89.04,160.89 89.58,161.67 90.11,162.43 90.65,163.16 91.19,163.89 91.72,164.68 92.26,165.50 92.80,166.32 93.33,167.09 93.87,167.80 94.40,168.39 94.94,168.85 95.48,169.12 96.01,169.19 96.55,169.19 97.09,169.19 97.62,169.19 98.16,169.10 98.69,168.16 99.23,166.82 99.77,165.84 100.30,165.29 100.84,164.83 101.38,164.57 101.91,164.57 102.45,164.68 102.98,164.86 103.52,165.09 104.06,165.37 104.59,165.66 105.13,165.95 105.66,166.31 106.20,166.75 106.74,167.25 107.27,167.79 107.81,168.38 108.35,168.99 108.88,169.61 109.42,170.23 109.95,170.84 110.49,171.44 111.03,172.07 111.56,172.73 112.10,173.40 112.64,174.08 113.17,174.77 113.71,175.46 114.25,176.15 114.78,176.84 115.32,177.52 115.85,178.20 116.39,178.91 116.93,179.63 117.46,180.35 118.00,181.06 118.53,181.75 119.07,182.41 119.61,183.03 120.14,183.61 120.68,184.14 121.22,184.66 121.75,185.18 122.29,185.68 122.83,186.12 123.36,186.51 123.90,186.82 124.43,187.02 124.97,187.18 125.51,187.32 126.04,187.44 126.58,187.54 127.11,187.63 127.65,187.71 128.19,187.79 128.72,187.87 129.26,187.96 129.80,188.06 130.33,188.17 130.87,188.30 131.41,188.47 131.94,188.67 132.48,188.90 133.01,189.14 133.55,189.38 134.09,189.60 134.62,189.79 135.16,189.94 135.69,190.03 136.23,190.04 136.77,189.70 137.30,188.98 137.84,188.06 138.38,187.08 138.91,186.20 139.45,185.50 139.99,184.82 140.52,184.19 141.06,183.65 141.59,183.23 142.13,182.86 142.67,182.54 143.20,182.25 143.74,181.99 144.28,181.76 144.81,181.56 145.35,181.37 145.88,181.19 146.42,181.04 146.96,180.90 147.49,180.79 148.03,180.68 148.56,180.58 149.10,180.49 149.64,180.44 150.17,180.42 150.71,180.46 151.25,180.53 151.78,180.64 152.32,180.76 152.86,180.91 153.39,181.13 153.93,181.47 154.46,181.90 155.00,182.39 155.54,182.88 156.07,183.36 156.61,183.79 157.14,184.21 157.68,184.64 158.22,185.08 158.75,185.52 159.29,185.96 159.83,186.39 160.36,186.81 160.90,187.21 161.44,187.58 161.97,187.92 162.51,188.23 163.04,188.51 163.58,188.77 164.12,189.02 164.65,189.26 165.19,189.48 165.72,189.68 166.26,189.85 166.80,190.00 167.33,190.12 167.87,190.23 168.41,190.33 168.94,190.42 169.48,190.49 170.01,190.54 170.55,190.58 171.09,190.62 171.62,190.65 172.16,190.68 172.70,190.71 173.23,190.74 173.77,190.76 174.31,190.77 174.84,190.78 175.38,190.78 175.91,190.76 176.45,190.71 176.99,190.62 177.52,190.51 178.06,190.37 178.59,190.20 179.13,190.00 179.67,189.55 180.20,188.83 180.74,187.95 181.28,187.03 181.81,186.19 182.35,185.50 182.88,184.82 183.42,184.19 183.96,183.65 184.49,183.23 185.03,182.86 185.57,182.54 186.10,182.25 186.64,181.99 187.18,181.76 187.71,181.56 188.25,181.37 188.78,181.19 189.32,181.04 189.86,180.90 190.39,180.79 190.93,180.68 191.47,180.58 192.00,180.49 192.54,180.44 193.07,180.42 193.61,180.46 194.15,180.53 194.68,180.64 195.22,180.76 195.75,180.91 196.29,181.13 196.83,181.47 197.36,181.90 197.90,182.39 198.44,182.88 198.97,183.36 199.51,183.79 200.04,184.21 200.58,184.64 201.12,185.08 201.65,185.52 202.19,185.96 202.73,186.39 203.26,186.81 203.80,187.21 204.34,187.58 204.87,187.92 205.41,188.23 205.94,188.51 206.48,188.77 207.02,189.02 207.55,189.26 208.09,189.48 208.62,189.68 209.16,189.85 209.70,190.00 210.23,190.12 210.77,190.23 211.31,190.33 211.84,190.42 212.38,190.49 212.91,190.54 213.45,190.58 213.99,190.62 214.52,190.65 215.06,190.68 215.60,190.71 216.13,190.74 216.67,190.76 217.21,190.77 217.74,190.78 218.28,190.78 218.81,190.76 219.35,190.71 219.89,190.62 220.42,190.51 220.96,190.37 221.50,190.20 222.03,190.00 222.57,189.55 223.10,188.83 223.64,187.95 224.18,187.03 224.71,186.19 225.25,185.50 225.78,184.82 226.32,184.19 226.86,183.65 227.39,183.23 227.93,182.86 228.47,182.54 229.00,182.25 229.54,181.99 230.07,181.76 230.61,181.56 231.15,181.37 231.68,181.19 232.22,181.04 232.76,180.90 233.29,180.79 233.83,180.68 234.37,180.58 234.90,180.49 235.44,180.44 235.97,180.42 236.51,180.46 237.05,180.53 237.58,180.64 238.12,180.76 238.66,180.91 239.19,181.13 239.73,181.47 240.26,181.90 240.80,182.39 241.34,182.88 241.87,183.36 242.41,183.79 242.94,184.21 243.48,184.64 244.02,185.08 244.55,185.52 245.09,185.96 245.63,186.39 246.16,186.81 246.70,187.21 247.24,187.58 247.77,187.92 248.31,188.23 248.84,188.51 249.38,188.77 249.92,189.02 250.45,189.26 250.99,189.48 251.53,189.68 252.06,189.85 252.60,190.00 253.13,190.12 253.67,190.23 254.21,190.33 254.74,190.42 255.28,190.49 255.81,190.54 256.35,190.58 256.89,190.62 257.42,190.65 257.96,190.68 258.50,190.71 259.03,190.74 259.57,190.76 260.11,190.77 260.64,190.78 261.18,190.78 261.71,190.76 262.25,190.71 262.79,190.62 263.32,190.51 263.86,190.37 264.39,190.20 264.93,190.00 265.47,189.55 266.00,188.83 266.54,187.95 267.08,187.03 267.61,186.19 268.15,185.50 268.69,184.82 269.22,184.19 269.76,183.65 270.29,183.23 270.83,182.86 271.37,182.54 271.90,182.25 272.44,181.99 272.98,181.76 273.51,181.56 274.05,181.37 274.58,181.19 275.12,181.04 275.66,180.90 276.19,180.79 276.73,180.68 277.26,180.58 277.80,180.49 278.34,180.44 278.87,180.42 279.41,180.46 279.95,180.53 280.48,180.64 281.02,180.76 281.56,180.91 282.09,181.13 282.63,181.47 283.16,181.90 283.70,182.39 284.24,182.88 284.77,183.36 285.31,183.79 285.85,184.21 286.38,184.64 286.92,185.08 287.45,185.52 287.99,185.96 288.53,186.39 289.06,186.81 289.60,187.21 290.13,187.58 290.67,187.92 291.21,188.23 291.74,188.51 292.28,188.77 292.82,189.02 293.35,189.26 293.89,189.48 294.43,189.68 294.96,189.85 295.50,190.00 296.03,190.12 296.57,190.23 297.11,190.33 297.64,190.42 298.18,190.49 298.72,190.54 299.25,190.58 299.79,190.62 300.32,190.65 300.86,190.68 301.40,190.71 301.93,190.74 302.47,190.76 303.00,190.77 303.54,190.78 304.08,190.78 304.61,190.76 305.15,190.71 305.69,190.62 306.22,190.51 306.76,190.37 307.30,190.20 307.83,190.00 308.37,189.55 308.90,188.83 309.44,187.95 309.98,187.03 310.51,186.19 311.05,185.50 311.58,184.82 312.12,184.19 312.66,183.65 313.19,183.23 313.73,182.86 314.27,182.54 314.80,182.25 315.34,181.99 315.88,181.76 316.41,181.56 316.95,181.37 317.48,181.19 318.02,181.04 318.56,180.90 319.09,180.79 319.63,180.68 320.17,180.58 320.70,180.49 321.24,180.44 321.77,180.42 322.31,180.46 322.85,180.54 323.38,180.65 323.92,180.78 324.45,180.91 324.99,181.04 325.53,181.20 326.06,181.37 326.60,181.56 327.14,181.77 327.67,181.99 328.21,182.22 328.75,182.47 329.28,182.72 329.82,182.99 330.35,183.26 330.89,183.54 331.43,183.83 331.96,184.12 332.50,184.42 333.04,184.72 333.57,185.01 334.11,185.31 334.64,185.61 335.18,185.91 335.72,186.23 336.25,186.59 336.79,186.99 337.32,187.39 337.86,187.80 338.40,188.19 338.93,188.56 339.47,188.88 340.01,189.13 340.54,189.32 341.08,189.46 341.62,189.60 342.15,189.73 342.69,189.85 343.22,189.97 343.76,190.08 344.30,190.18 344.83,190.27 345.37,190.35 345.90,190.41 346.44,190.47 346.98,190.51 347.51,190.53 348.05,190.54 348.59,190.53 349.12,190.52 349.66,190.50 350.19,190.47 350.73,190.44 351.27,190.40 351.80,190.35 352.34,190.30 352.88,190.25 353.41,190.19 353.95,190.13 354.49,190.06 355.02,190.00 355.56,189.93 356.09,189.87 356.63,189.80 357.17,189.74 357.70,189.68 358.24,189.62 358.77,189.56 359.31,189.51 359.85,189.45 360.38,189.40 360.92,189.34 361.46,189.28 361.99,189.23 362.53,189.17 363.06,189.11 363.60,189.05 364.14,188.99 364.67,188.93 365.21,188.86 365.75,188.80 366.28,188.74 366.82,188.67 367.36,188.61 367.89,188.54 368.43,188.48 368.96,188.41 369.50,188.34"/>
</g>
<g fill="none" stroke-width="1.5">
<path d="M272.8 32.90H299.8" stroke="#ff0000" />
<path d="M272.8 51.80H299.8" stroke="#0000ff" stroke-dasharray="3.6 3.5"/>
<path d="M272.8 70.70H299.8" stroke="#ff00ff" stroke-dasharray="4.3 1.4 1.7 1.5"/>
<path d="M272.8 89.60H299.8" stroke="#00ff00" stroke-width="1.8" stroke-dasharray="1.15 1.05"/>
</g>
<g font-family="'Liberation Sans', Arial, Helvetica, sans-serif" font-size="14.3" fill="#000000" stroke="#000000" stroke-width="0.18">
<text x="303.2" y="38.50">vehicle1</text>
<text x="303.2" y="57.40">vehicle2</text>
<text x="303.2" y="76.30">vehicle3</text>
<text x="303.2" y="95.20">vehicle4</text>
</g>
<text x="201.6" y="266" text-anchor="middle" font-family="'Liberation Serif', 'Times New Roman', serif" font-size="12" fill="#111">(<tspan font-weight="bold" font-size="13">a</tspan>)</text>
<g stroke="#7c7c7c" stroke-width="1" fill="none">
<rect x="47.75" y="289.5" width="321.75" height="194.60000000000002"/>
<path d="M47.75 484.1v-3.2M47.75 289.5v3.2"/>
<path d="M155.00 484.1v-3.2M155.00 289.5v3.2"/>
<path d="M262.25 484.1v-3.2M262.25 289.5v3.2"/>
<path d="M369.50 484.1v-3.2M369.50 289.5v3.2"/>
<path d="M47.75 484.10h3.2M369.5 484.10h-3.2"/>
<path d="M47.75 445.18h3.2M369.5 445.18h-3.2"/>
<path d="M47.75 406.26h3.2M369.5 406.26h-3.2"/>
<path d="M47.75 367.34h3.2M369.5 367.34h-3.2"/>
<path d="M47.75 328.42h3.2M369.5 328.42h-3.2"/>
<path d="M47.75 289.50h3.2M369.5 289.50h-3.2"/>
</g>
<g font-family="'Liberation Sans', Arial, Helvetica, sans-serif" font-size="14" fill="#262626" stroke="#262626" stroke-width="0.18">
<text x="47.75" y="503.80" text-anchor="middle">0</text>
<text x="155.00" y="503.80" text-anchor="middle">50</text>
<text x="262.25" y="503.80" text-anchor="middle">100</text>
<text x="369.50" y="503.80" text-anchor="middle">150</text>
<text x="42.15" y="489.00" text-anchor="end">15</text>
<text x="42.15" y="450.08" text-anchor="end">20</text>
<text x="42.15" y="411.16" text-anchor="end">25</text>
<text x="42.15" y="372.24" text-anchor="end">30</text>
<text x="42.15" y="333.32" text-anchor="end">35</text>
<text x="42.15" y="294.40" text-anchor="end">40</text>
</g>
<g font-family="'Liberation Sans', Arial, Helvetica, sans-serif" font-size="15.3" fill="#262626" stroke="#262626" stroke-width="0.18">
<text x="208.62" y="523.90" text-anchor="middle">Time(s)</text>
<text transform="translate(19.6 387.8) rotate(-90)" text-anchor="middle" font-size="15.7">Longitudinal speed(m/s)</text>
</g>
<clipPath id="cb"><rect x="47.75" y="289.5" width="321.75" height="194.60000000000002"/></clipPath>
<g fill="none" stroke-width="1.5" stroke-linejoin="round" clip-path="url(#cb)">
<polyline stroke="#00ffff" stroke-width="3.8"  points="47.75,406.26 48.18,406.26 48.61,406.26 49.04,406.26 49.47,406.26 49.90,406.26 50.32,406.26 50.75,406.26 51.18,406.26 51.61,406.26 52.04,406.26 52.47,406.26 52.90,406.26 53.33,406.26 53.76,406.26 54.19,406.26 54.61,406.26 55.04,406.26 55.47,406.26 55.90,406.26 56.33,406.26 56.76,406.26 57.19,406.26 57.62,406.26 58.05,406.26 58.48,406.26 58.90,406.26 59.33,406.26 59.76,406.26 60.19,406.26 60.62,406.26 61.05,406.26 61.48,406.26 61.91,406.26 62.34,406.26 62.77,406.26 63.19,406.26 63.62,406.26 64.05,406.26 64.48,406.26 64.91,406.26 65.34,406.26 65.77,406.26 66.20,406.26 66.63,406.26 67.06,406.26 67.48,406.26 67.91,406.26 68.34,406.26 68.77,406.26 69.20,406.26 69.63,406.31 70.06,406.45 70.49,406.69 70.92,407.03 71.34,407.46 71.77,407.98 72.20,408.59 72.63,409.29 73.06,410.08 73.49,410.94 73.92,411.89 74.35,412.91 74.78,413.99 75.21,415.15 75.64,416.37 76.06,417.64 76.49,418.97 76.92,420.34 77.35,421.75 77.78,423.20 78.21,424.68 78.64,426.19 79.07,427.71 79.50,429.24 79.92,430.78 80.35,432.32 80.78,433.85 81.21,435.37 81.64,436.88 82.07,438.36 82.50,439.81 82.93,441.22 83.36,442.59 83.79,443.92 84.22,445.19 84.64,446.41 85.07,447.56 85.50,448.65 85.93,449.67 86.36,450.62 86.79,451.48 87.22,452.27 87.65,452.97 88.08,453.58 88.50,454.10 88.93,454.53 89.36,454.86 89.79,455.11 90.22,455.25 90.65,455.30 91.08,455.25 91.51,455.11 91.94,454.86 92.37,454.53 92.80,454.10 93.22,453.58 93.65,452.97 94.08,452.27 94.51,451.48 94.94,450.62 95.37,449.67 95.80,448.65 96.23,447.56 96.66,446.41 97.09,445.19 97.51,443.92 97.94,442.59 98.37,441.22 98.80,439.81 99.23,438.36 99.66,436.88 100.09,435.37 100.52,433.85 100.95,432.32 101.38,430.78 101.80,429.24 102.23,427.71 102.66,426.19 103.09,424.68 103.52,423.20 103.95,421.75 104.38,420.34 104.81,418.97 105.24,417.64 105.66,416.37 106.09,415.15 106.52,413.99 106.95,412.91 107.38,411.89 107.81,410.94 108.24,410.08 108.67,409.29 109.10,408.59 109.53,407.98 109.95,407.46 110.38,407.03 110.81,406.69 111.24,406.45 111.67,406.31 112.10,406.26 112.53,406.31 112.96,406.45 113.39,406.69 113.82,407.03 114.25,407.46 114.67,407.98 115.10,408.59 115.53,409.29 115.96,410.08 116.39,410.94 116.82,411.89 117.25,412.91 117.68,413.99 118.11,415.15 118.53,416.37 118.96,417.64 119.39,418.97 119.82,420.34 120.25,421.75 120.68,423.20 121.11,424.68 121.54,426.19 121.97,427.71 122.40,429.24 122.83,430.78 123.25,432.32 123.68,433.85 124.11,435.37 124.54,436.88 124.97,438.36 125.40,439.81 125.83,441.22 126.26,442.59 126.69,443.92 127.11,445.19 127.54,446.41 127.97,447.56 128.40,448.65 128.83,449.67 129.26,450.62 129.69,451.48 130.12,452.27 130.55,452.97 130.98,453.58 131.41,454.10 131.83,454.53 132.26,454.86 132.69,455.11 133.12,455.25 133.55,455.30 133.98,455.25 134.41,455.11 134.84,454.86 135.27,454.53 135.69,454.10 136.12,453.58 136.55,452.97 136.98,452.27 137.41,451.48 137.84,450.62 138.27,449.67 138.70,448.65 139.13,447.56 139.56,446.41 139.99,445.19 140.41,443.92 140.84,442.59 141.27,441.22 141.70,439.81 142.13,438.36 142.56,436.88 142.99,435.37 143.42,433.85 143.85,432.32 144.28,430.78 144.70,429.24 145.13,427.71 145.56,426.19 145.99,424.68 146.42,423.20 146.85,421.75 147.28,420.34 147.71,418.97 148.14,417.64 148.56,416.37 148.99,415.15 149.42,413.99 149.85,412.91 150.28,411.89 150.71,410.94 151.14,410.08 151.57,409.29 152.00,408.59 152.43,407.98 152.86,407.46 153.28,407.03 153.71,406.69 154.14,406.45 154.57,406.31 155.00,406.26 155.43,406.31 155.86,406.45 156.29,406.69 156.72,407.03 157.14,407.46 157.57,407.98 158.00,408.59 158.43,409.29 158.86,410.08 159.29,410.94 159.72,411.89 160.15,412.91 160.58,413.99 161.01,415.15 161.44,416.37 161.86,417.64 162.29,418.97 162.72,420.34 163.15,421.75 163.58,423.20 164.01,424.68 164.44,426.19 164.87,427.71 165.30,429.24 165.72,430.78 166.15,432.32 166.58,433.85 167.01,435.37 167.44,436.88 167.87,438.36 168.30,439.81 168.73,441.22 169.16,442.59 169.59,443.92 170.01,445.19 170.44,446.41 170.87,447.56 171.30,448.65 171.73,449.67 172.16,450.62 172.59,451.48 173.02,452.27 173.45,452.97 173.88,453.58 174.31,454.10 174.73,454.53 175.16,454.86 175.59,455.11 176.02,455.25 176.45,455.30 176.88,455.25 177.31,455.11 177.74,454.86 178.17,454.53 178.59,454.10 179.02,453.58 179.45,452.97 179.88,452.27 180.31,451.48 180.74,450.62 181.17,449.67 181.60,448.65 182.03,447.56 182.46,446.41 182.88,445.19 183.31,443.92 183.74,442.59 184.17,441.22 184.60,439.81 185.03,438.36 185.46,436.88 185.89,435.37 186.32,433.85 186.75,432.32 187.18,430.78 187.60,429.24 188.03,427.71 188.46,426.19 188.89,424.68 189.32,423.20 189.75,421.75 190.18,420.34 190.61,418.97 191.04,417.64 191.47,416.37 191.89,415.15 192.32,413.99 192.75,412.91 193.18,411.89 193.61,410.94 194.04,410.08 194.47,409.29 194.90,408.59 195.33,407.98 195.75,407.46 196.18,407.03 196.61,406.69 197.04,406.45 197.47,406.31 197.90,406.26 198.33,406.31 198.76,406.45 199.19,406.69 199.62,407.03 200.04,407.46 200.47,407.98 200.90,408.59 201.33,409.29 201.76,410.08 202.19,410.94 202.62,411.89 203.05,412.91 203.48,413.99 203.91,415.15 204.34,416.37 204.76,417.64 205.19,418.97 205.62,420.34 206.05,421.75 206.48,423.20 206.91,424.68 207.34,426.19 207.77,427.71 208.20,429.24 208.62,430.78 209.05,432.32 209.48,433.85 209.91,435.37 210.34,436.88 210.77,438.36 211.20,439.81 211.63,441.22 212.06,442.59 212.49,443.92 212.91,445.19 213.34,446.41 213.77,447.56 214.20,448.65 214.63,449.67 215.06,450.62 215.49,451.48 215.92,452.27 216.35,452.97 216.78,453.58 217.21,454.10 217.63,454.53 218.06,454.86 218.49,455.11 218.92,455.25 219.35,455.30 219.78,455.25 220.21,455.11 220.64,454.86 221.07,454.53 221.50,454.10 221.92,453.58 222.35,452.97 222.78,452.27 223.21,451.48 223.64,450.62 224.07,449.67 224.50,448.65 224.93,447.56 225.36,446.41 225.78,445.19 226.21,443.92 226.64,442.59 227.07,441.22 227.50,439.81 227.93,438.36 228.36,436.88 228.79,435.37 229.22,433.85 229.65,432.32 230.07,430.78 230.50,429.24 230.93,427.71 231.36,426.19 231.79,424.68 232.22,423.20 232.65,421.75 233.08,420.34 233.51,418.97 233.94,417.64 234.37,416.37 234.79,415.15 235.22,413.99 235.65,412.91 236.08,411.89 236.51,410.94 236.94,410.08 237.37,409.29 237.80,408.59 238.23,407.98 238.66,407.46 239.08,407.03 239.51,406.69 239.94,406.45 240.37,406.31 240.80,406.26 241.23,406.31 241.66,406.45 242.09,406.69 242.52,407.03 242.94,407.46 243.37,407.98 243.80,408.59 244.23,409.29 244.66,410.08 245.09,410.94 245.52,411.89 245.95,412.91 246.38,413.99 246.81,415.15 247.24,416.37 247.66,417.64 248.09,418.97 248.52,420.34 248.95,421.75 249.38,423.20 249.81,424.68 250.24,426.19 250.67,427.71 251.10,429.24 251.53,430.78 251.95,432.32 252.38,433.85 252.81,435.37 253.24,436.88 253.67,438.36 254.10,439.81 254.53,441.22 254.96,442.59 255.39,443.92 255.81,445.19 256.24,446.41 256.67,447.56 257.10,448.65 257.53,449.67 257.96,450.62 258.39,451.48 258.82,452.27 259.25,452.97 259.68,453.58 260.11,454.10 260.53,454.53 260.96,454.86 261.39,455.11 261.82,455.25 262.25,455.30 262.68,455.25 263.11,455.11 263.54,454.86 263.97,454.53 264.39,454.10 264.82,453.58 265.25,452.97 265.68,452.27 266.11,451.48 266.54,450.62 266.97,449.67 267.40,448.65 267.83,447.56 268.26,446.41 268.69,445.19 269.11,443.92 269.54,442.59 269.97,441.22 270.40,439.81 270.83,438.36 271.26,436.88 271.69,435.37 272.12,433.85 272.55,432.32 272.98,430.78 273.40,429.24 273.83,427.71 274.26,426.19 274.69,424.68 275.12,423.20 275.55,421.75 275.98,420.34 276.41,418.97 276.84,417.64 277.26,416.37 277.69,415.15 278.12,413.99 278.55,412.91 278.98,411.89 279.41,410.94 279.84,410.08 280.27,409.29 280.70,408.59 281.13,407.98 281.56,407.46 281.98,407.03 282.41,406.69 282.84,406.45 283.27,406.31 283.70,406.26 284.13,406.31 284.56,406.45 284.99,406.69 285.42,407.03 285.85,407.46 286.27,407.98 286.70,408.59 287.13,409.29 287.56,410.08 287.99,410.94 288.42,411.89 288.85,412.91 289.28,413.99 289.71,415.15 290.13,416.37 290.56,417.64 290.99,418.97 291.42,420.34 291.85,421.75 292.28,423.20 292.71,424.68 293.14,426.19 293.57,427.71 294.00,429.24 294.43,430.78 294.85,432.32 295.28,433.85 295.71,435.37 296.14,436.88 296.57,438.36 297.00,439.81 297.43,441.22 297.86,442.59 298.29,443.92 298.72,445.19 299.14,446.41 299.57,447.56 300.00,448.65 300.43,449.67 300.86,450.62 301.29,451.48 301.72,452.27 302.15,452.97 302.58,453.58 303.00,454.10 303.43,454.53 303.86,454.86 304.29,455.11 304.72,455.25 305.15,455.30 305.58,455.25 306.01,455.11 306.44,454.86 306.87,454.53 307.30,454.10 307.72,453.58 308.15,452.97 308.58,452.27 309.01,451.48 309.44,450.62 309.87,449.67 310.30,448.65 310.73,447.56 311.16,446.41 311.58,445.19 312.01,443.92 312.44,442.59 312.87,441.22 313.30,439.81 313.73,438.36 314.16,436.88 314.59,435.37 315.02,433.85 315.45,432.32 315.88,430.78 316.30,429.24 316.73,427.71 317.16,426.19 317.59,424.68 318.02,423.20 318.45,421.75 318.88,420.34 319.31,418.97 319.74,417.64 320.17,416.37 320.59,415.15 321.02,413.99 321.45,412.91 321.88,411.89 322.31,410.94 322.74,410.08 323.17,409.29 323.60,408.59 324.03,407.98 324.45,407.46 324.88,407.03 325.31,406.69 325.74,406.45 326.17,406.31 326.60,406.26 327.03,406.26 327.46,406.26 327.89,406.26 328.32,406.26 328.75,406.26 329.17,406.26 329.60,406.26 330.03,406.26 330.46,406.26 330.89,406.26 331.32,406.26 331.75,406.26 332.18,406.26 332.61,406.26 333.04,406.26 333.46,406.26 333.89,406.26 334.32,406.26 334.75,406.26 335.18,406.26 335.61,406.26 336.04,406.26 336.47,406.26 336.90,406.26 337.32,406.26 337.75,406.26 338.18,406.26 338.61,406.26 339.04,406.26 339.47,406.26 339.90,406.26 340.33,406.26 340.76,406.26 341.19,406.26 341.62,406.26 342.04,406.26 342.47,406.26 342.90,406.26 343.33,406.26 343.76,406.26 344.19,406.26 344.62,406.26 345.05,406.26 345.48,406.26 345.90,406.26 346.33,406.26 346.76,406.26 347.19,406.26 347.62,406.26 348.05,406.26 348.48,406.26 348.91,406.26 349.34,406.26 349.77,406.26 350.19,406.26 350.62,406.26 351.05,406.26 351.48,406.26 351.91,406.26 352.34,406.26 352.77,406.26 353.20,406.26 353.63,406.26 354.06,406.26 354.49,406.26 354.91,406.26 355.34,406.26 355.77,406.26 356.20,406.26 356.63,406.26 357.06,406.26 357.49,406.26 357.92,406.26 358.35,406.26 358.77,406.26 359.20,406.26 359.63,406.26 360.06,406.26 360.49,406.26 360.92,406.26 361.35,406.26 361.78,406.26 362.21,406.26 362.64,406.26 363.06,406.26 363.49,406.26 363.92,406.26 364.35,406.26 364.78,406.26 365.21,406.26 365.64,406.26 366.07,406.26 366.50,406.26 366.93,406.26 367.36,406.26 367.78,406.26 368.21,406.26 368.64,406.26 369.07,406.26 369.50,406.26"/>
<polyline stroke="#ff0000"  points="47.75,407.14 48.18,406.79 48.61,406.50 49.04,406.27 49.47,406.08 49.90,405.92 50.32,405.79 50.75,405.69 51.18,405.61 51.61,405.55 52.04,405.50 52.47,405.47 52.90,405.44 53.33,405.43 53.76,405.42 54.19,405.41 54.61,405.42 55.04,405.42 55.47,405.43 55.90,405.44 56.33,405.45 56.76,405.47 57.19,405.49 57.62,405.50 58.05,405.52 58.48,405.54 58.90,405.56 59.33,405.58 59.76,405.60 60.19,405.61 60.62,405.63 61.05,405.65 61.48,405.67 61.91,405.69 62.34,405.71 62.77,405.72 63.19,405.74 63.62,405.76 64.05,405.77 64.48,405.79 64.91,405.80 65.34,405.82 65.77,405.83 66.20,405.84 66.63,405.86 67.06,405.87 67.48,405.88 67.91,405.90 68.34,405.91 68.77,405.92 69.20,405.93 69.63,405.94 70.06,405.95 70.49,405.96 70.92,405.99 71.34,406.05 71.77,406.15 72.20,406.30 72.63,406.51 73.06,406.79 73.49,407.14 73.92,407.56 74.35,408.05 74.78,408.62 75.21,409.27 75.64,409.99 76.06,410.88 76.49,411.84 76.92,412.85 77.35,413.92 77.78,415.05 78.21,416.22 78.64,417.45 79.07,418.73 79.50,420.05 79.92,421.40 80.35,422.80 80.78,424.22 81.21,425.66 81.64,427.12 82.07,428.60 82.50,430.09 82.93,431.57 83.36,433.06 83.79,434.54 84.22,436.00 84.64,437.45 85.07,438.87 85.50,440.26 85.93,441.61 86.36,442.92 86.79,444.19 87.22,445.41 87.65,446.57 88.08,447.67 88.50,448.71 88.93,449.67 89.36,450.57 89.79,451.39 90.22,452.13 90.65,452.79 91.08,453.37 91.51,453.86 91.94,454.26 92.37,454.57 92.80,454.79 93.22,454.92 93.65,454.95 94.08,454.89 94.51,454.74 94.94,454.50 95.37,454.17 95.80,453.75 96.23,453.24 96.66,452.64 97.09,451.96 97.51,451.20 97.94,450.36 98.37,449.45 98.80,448.47 99.23,447.42 99.66,446.31 100.09,445.14 100.52,443.91 100.95,442.64 101.38,441.32 101.80,439.96 102.23,438.57 102.66,437.16 103.09,435.72 103.52,434.26 103.95,432.80 104.38,431.32 104.81,429.85 105.24,428.39 105.66,426.94 106.09,425.50 106.52,424.09 106.95,422.71 107.38,421.37 107.81,420.06 108.24,418.80 108.67,417.59 109.10,416.44 109.53,415.34 109.95,414.31 110.38,413.34 110.81,412.45 111.24,411.64 111.67,410.90 112.10,410.24 112.53,409.67 112.96,409.18 113.39,408.79 113.82,408.48 114.25,408.26 114.67,408.14 115.10,408.10 115.53,408.16 115.96,408.32 116.39,408.56 116.82,408.90 117.25,409.32 117.68,409.83 118.11,410.43 118.53,411.11 118.96,411.87 119.39,412.71 119.82,413.62 120.25,414.61 120.68,415.66 121.11,416.77 121.54,417.94 121.97,419.17 122.40,420.44 122.83,421.76 123.25,423.12 123.68,424.51 124.11,425.93 124.54,427.37 124.97,428.83 125.40,430.29 125.83,431.77 126.26,433.24 126.69,434.70 127.11,436.16 127.54,437.59 127.97,439.00 128.40,440.38 128.83,441.73 129.26,443.04 129.69,444.30 130.12,445.51 130.55,446.66 130.98,447.76 131.41,448.79 131.83,449.76 132.26,450.65 132.69,451.46 133.12,452.20 133.55,452.86 133.98,453.43 134.41,453.92 134.84,454.32 135.27,454.62 135.69,454.84 136.12,454.97 136.55,455.00 136.98,454.94 137.41,454.79 137.84,454.55 138.27,454.21 138.70,453.79 139.13,453.28 139.56,452.68 139.99,452.00 140.41,451.24 140.84,450.40 141.27,449.49 141.70,448.50 142.13,447.45 142.56,446.34 142.99,445.17 143.42,443.94 143.85,442.67 144.28,441.35 144.70,439.99 145.13,438.60 145.56,437.18 145.99,435.74 146.42,434.28 146.85,432.82 147.28,431.34 147.71,429.87 148.14,428.41 148.56,426.96 148.99,425.52 149.42,424.11 149.85,422.73 150.28,421.38 150.71,420.08 151.14,418.82 151.57,417.61 152.00,416.45 152.43,415.35 152.86,414.32 153.28,413.36 153.71,412.47 154.14,411.65 154.57,410.91 155.00,410.25 155.43,409.68 155.86,409.20 156.29,408.80 156.72,408.49 157.14,408.27 157.57,408.15 158.00,408.11 158.43,408.17 158.86,408.33 159.29,408.57 159.72,408.90 160.15,409.33 160.58,409.84 161.01,410.44 161.44,411.12 161.86,411.88 162.29,412.72 162.72,413.63 163.15,414.61 163.58,415.66 164.01,416.78 164.44,417.95 164.87,419.18 165.30,420.45 165.72,421.77 166.15,423.13 166.58,424.52 167.01,425.93 167.44,427.37 167.87,428.83 168.30,430.30 168.73,431.77 169.16,433.24 169.59,434.71 170.01,436.16 170.44,437.59 170.87,439.00 171.30,440.39 171.73,441.73 172.16,443.04 172.59,444.30 173.02,445.51 173.45,446.67 173.88,447.76 174.31,448.79 174.73,449.76 175.16,450.65 175.59,451.47 176.02,452.20 176.45,452.86 176.88,453.43 177.31,453.92 177.74,454.32 178.17,454.63 178.59,454.84 179.02,454.97 179.45,455.00 179.88,454.94 180.31,454.79 180.74,454.55 181.17,454.21 181.60,453.79 182.03,453.28 182.46,452.68 182.88,452.00 183.31,451.24 183.74,450.40 184.17,449.49 184.60,448.50 185.03,447.45 185.46,446.34 185.89,445.17 186.32,443.94 186.75,442.67 187.18,441.35 187.60,439.99 188.03,438.60 188.46,437.18 188.89,435.74 189.32,434.29 189.75,432.82 190.18,431.35 190.61,429.87 191.04,428.41 191.47,426.96 191.89,425.52 192.32,424.11 192.75,422.73 193.18,421.38 193.61,420.08 194.04,418.82 194.47,417.61 194.90,416.45 195.33,415.35 195.75,414.32 196.18,413.36 196.61,412.47 197.04,411.65 197.47,410.91 197.90,410.25 198.33,409.68 198.76,409.20 199.19,408.80 199.62,408.49 200.04,408.27 200.47,408.15 200.90,408.11 201.33,408.17 201.76,408.33 202.19,408.57 202.62,408.90 203.05,409.33 203.48,409.84 203.91,410.44 204.34,411.12 204.76,411.88 205.19,412.72 205.62,413.63 206.05,414.61 206.48,415.66 206.91,416.78 207.34,417.95 207.77,419.18 208.20,420.45 208.62,421.77 209.05,423.13 209.48,424.52 209.91,425.93 210.34,427.37 210.77,428.83 211.20,430.30 211.63,431.77 212.06,433.24 212.49,434.71 212.91,436.16 213.34,437.59 213.77,439.00 214.20,440.39 214.63,441.73 215.06,443.04 215.49,444.30 215.92,445.51 216.35,446.67 216.78,447.76 217.21,448.79 217.63,449.76 218.06,450.65 218.49,451.47 218.92,452.20 219.35,452.86 219.78,453.43 220.21,453.92 220.64,454.32 221.07,454.63 221.50,454.84 221.92,454.97 222.35,455.00 222.78,454.94 223.21,454.79 223.64,454.55 224.07,454.21 224.50,453.79 224.93,453.28 225.36,452.68 225.78,452.00 226.21,451.24 226.64,450.40 227.07,449.49 227.50,448.50 227.93,447.45 228.36,446.34 228.79,445.17 229.22,443.94 229.65,442.67 230.07,441.35 230.50,439.99 230.93,438.60 231.36,437.18 231.79,435.74 232.22,434.29 232.65,432.82 233.08,431.35 233.51,429.87 233.94,428.41 234.37,426.96 234.79,425.52 235.22,424.11 235.65,422.73 236.08,421.38 236.51,420.08 236.94,418.82 237.37,417.61 237.80,416.45 238.23,415.35 238.66,414.32 239.08,413.36 239.51,412.47 239.94,411.65 240.37,410.91 240.80,410.25 241.23,409.68 241.66,409.20 242.09,408.80 242.52,408.49 242.94,408.27 243.37,408.15 243.80,408.11 244.23,408.17 244.66,408.33 245.09,408.57 245.52,408.90 245.95,409.33 246.38,409.84 246.81,410.44 247.24,411.12 247.66,411.88 248.09,412.72 248.52,413.63 248.95,414.61 249.38,415.66 249.81,416.78 250.24,417.95 250.67,419.18 251.10,420.45 251.53,421.77 251.95,423.13 252.38,424.52 252.81,425.93 253.24,427.37 253.67,428.83 254.10,430.30 254.53,431.77 254.96,433.24 255.39,434.71 255.81,436.16 256.24,437.59 256.67,439.00 257.10,440.39 257.53,441.73 257.96,443.04 258.39,444.30 258.82,445.51 259.25,446.67 259.68,447.76 260.11,448.79 260.53,449.76 260.96,450.65 261.39,451.47 261.82,452.20 262.25,452.86 262.68,453.43 263.11,453.92 263.54,454.32 263.97,454.63 264.39,454.84 264.82,454.97 265.25,455.00 265.68,454.94 266.11,454.79 266.54,454.55 266.97,454.21 267.40,453.79 267.83,453.28 268.26,452.68 268.69,452.00 269.11,451.24 269.54,450.40 269.97,449.49 270.40,448.50 270.83,447.45 271.26,446.34 271.69,445.17 272.12,443.94 272.55,442.67 272.98,441.35 273.40,439.99 273.83,438.60 274.26,437.18 274.69,435.74 275.12,434.29 275.55,432.82 275.98,431.35 276.41,429.87 276.84,428.41 277.26,426.96 277.69,425.52 278.12,424.11 278.55,422.73 278.98,421.38 279.41,420.08 279.84,418.82 280.27,417.61 280.70,416.45 281.13,415.35 281.56,414.32 281.98,413.36 282.41,412.47 282.84,411.65 283.27,410.91 283.70,410.25 284.13,409.68 284.56,409.20 284.99,408.80 285.42,408.49 285.85,408.27 286.27,408.15 286.70,408.11 287.13,408.17 287.56,408.33 287.99,408.57 288.42,408.90 288.85,409.33 289.28,409.84 289.71,410.44 290.13,411.12 290.56,411.88 290.99,412.72 291.42,413.63 291.85,414.61 292.28,415.66 292.71,416.78 293.14,417.95 293.57,419.18 294.00,420.45 294.43,421.77 294.85,423.13 295.28,424.52 295.71,425.93 296.14,427.37 296.57,428.83 297.00,430.30 297.43,431.77 297.86,433.24 298.29,434.71 298.72,436.16 299.14,437.59 299.57,439.00 300.00,440.39 300.43,441.73 300.86,443.04 301.29,444.30 301.72,445.51 302.15,446.67 302.58,447.76 303.00,448.79 303.43,449.76 303.86,450.65 304.29,451.47 304.72,452.20 305.15,452.86 305.58,453.43 306.01,453.92 306.44,454.32 306.87,454.63 307.30,454.84 307.72,454.97 308.15,455.00 308.58,454.94 309.01,454.79 309.44,454.55 309.87,454.21 310.30,453.79 310.73,453.28 311.16,452.68 311.58,452.00 312.01,451.24 312.44,450.40 312.87,449.49 313.30,448.50 313.73,447.45 314.16,446.34 314.59,445.17 315.02,443.94 315.45,442.67 315.88,441.35 316.30,439.99 316.73,438.60 317.16,437.18 317.59,435.74 318.02,434.29 318.45,432.82 318.88,431.35 319.31,429.87 319.74,428.41 320.17,426.96 320.59,425.52 321.02,424.11 321.45,422.73 321.88,421.38 322.31,420.05 322.74,418.70 323.17,417.40 323.60,416.17 324.03,415.01 324.45,413.93 324.88,412.91 325.31,411.98 325.74,411.13 326.17,410.35 326.60,409.67 327.03,409.07 327.46,408.57 327.89,408.15 328.32,407.80 328.75,407.52 329.17,407.30 329.60,407.11 330.03,406.96 330.46,406.83 330.89,406.73 331.32,406.64 331.75,406.58 332.18,406.52 332.61,406.47 333.04,406.44 333.46,406.40 333.89,406.38 334.32,406.36 334.75,406.34 335.18,406.33 335.61,406.31 336.04,406.31 336.47,406.30 336.90,406.29 337.32,406.29 337.75,406.28 338.18,406.28 338.61,406.27 339.04,406.27 339.47,406.27 339.90,406.27 340.33,406.27 340.76,406.27 341.19,406.26 341.62,406.26 342.04,406.26 342.47,406.26 342.90,406.26 343.33,406.26 343.76,406.26 344.19,406.26 344.62,406.26 345.05,406.26 345.48,406.26 345.90,406.26 346.33,406.26 346.76,406.26 347.19,406.26 347.62,406.26 348.05,406.26 348.48,406.26 348.91,406.26 349.34,406.26 349.77,406.26 350.19,406.26 350.62,406.26 351.05,406.26 351.48,406.26 351.91,406.26 352.34,406.26 352.77,406.26 353.20,406.26 353.63,406.26 354.06,406.26 354.49,406.26 354.91,406.26 355.34,406.26 355.77,406.26 356.20,406.26 356.63,406.26 357.06,406.26 357.49,406.26 357.92,406.26 358.35,406.26 358.77,406.26 359.20,406.26 359.63,406.26 360.06,406.26 360.49,406.26 360.92,406.26 361.35,406.26 361.78,406.26 362.21,406.26 362.64,406.26 363.06,406.26 363.49,406.26 363.92,406.26 364.35,406.26 364.78,406.26 365.21,406.26 365.64,406.26 366.07,406.26 366.50,406.26 366.93,406.26 367.36,406.26 367.78,406.26 368.21,406.26 368.64,406.26 369.07,406.26 369.50,406.26"/>
<polyline stroke="#0000ff" stroke-dasharray="3.6 3.5" points="47.75,408.01 48.18,407.32 48.61,406.75 49.04,406.28 49.47,405.89 49.90,405.58 50.32,405.33 50.75,405.12 51.18,404.96 51.61,404.84 52.04,404.74 52.47,404.67 52.90,404.62 53.33,404.59 53.76,404.57 54.19,404.57 54.61,404.57 55.04,404.58 55.47,404.60 55.90,404.62 56.33,404.65 56.76,404.68 57.19,404.71 57.62,404.75 58.05,404.78 58.48,404.82 58.90,404.86 59.33,404.89 59.76,404.93 60.19,404.97 60.62,405.01 61.05,405.04 61.48,405.08 61.91,405.12 62.34,405.15 62.77,405.18 63.19,405.22 63.62,405.25 64.05,405.28 64.48,405.31 64.91,405.34 65.34,405.37 65.77,405.40 66.20,405.43 66.63,405.46 67.06,405.48 67.48,405.51 67.91,405.53 68.34,405.55 68.77,405.58 69.20,405.60 69.63,405.62 70.06,405.64 70.49,405.66 70.92,405.68 71.34,405.70 71.77,405.72 72.20,405.74 72.63,405.78 73.06,405.83 73.49,405.90 73.92,406.01 74.35,406.15 74.78,406.34 75.21,406.58 75.64,406.87 76.06,407.32 76.49,407.81 76.92,408.36 77.35,408.97 77.78,409.63 78.21,410.35 78.64,411.14 79.07,411.98 79.50,412.89 79.92,413.85 80.35,414.87 80.78,415.94 81.21,417.07 81.64,418.24 82.07,419.46 82.50,420.72 82.93,422.02 83.36,423.35 83.79,424.70 84.22,426.08 84.64,427.48 85.07,428.90 85.50,430.32 85.93,431.74 86.36,433.16 86.79,434.57 87.22,435.96 87.65,437.34 88.08,438.70 88.50,440.02 88.93,441.31 89.36,442.56 89.79,443.77 90.22,444.92 90.65,446.02 91.08,447.07 91.51,448.05 91.94,448.97 92.37,449.82 92.80,450.59 93.22,451.29 93.65,451.91 94.08,452.45 94.51,452.91 94.94,453.28 95.37,453.56 95.80,453.76 96.23,453.87 96.66,453.89 97.09,453.83 97.51,453.67 97.94,453.43 98.37,453.10 98.80,452.68 99.23,452.18 99.66,451.60 100.09,450.94 100.52,450.21 100.95,449.40 101.38,448.51 101.80,447.57 102.23,446.55 102.66,445.48 103.09,444.36 103.52,443.18 103.95,441.96 104.38,440.69 104.81,439.39 105.24,438.06 105.66,436.70 106.09,435.32 106.52,433.93 106.95,432.52 107.38,431.12 107.81,429.71 108.24,428.31 108.67,426.93 109.10,425.56 109.53,424.22 109.95,422.90 110.38,421.62 110.81,420.38 111.24,419.18 111.67,418.03 112.10,416.93 112.53,415.90 112.96,414.92 113.39,414.01 113.82,413.17 114.25,412.40 114.67,411.70 115.10,411.09 115.53,410.55 115.96,410.10 116.39,409.73 116.82,409.45 117.25,409.25 117.68,409.15 118.11,409.13 118.53,409.20 118.96,409.36 119.39,409.60 119.82,409.94 120.25,410.35 120.68,410.86 121.11,411.44 121.54,412.10 121.97,412.84 122.40,413.65 122.83,414.54 123.25,415.49 123.68,416.50 124.11,417.57 124.54,418.70 124.97,419.88 125.40,421.11 125.83,422.37 126.26,423.68 126.69,425.01 127.11,426.37 127.54,427.75 127.97,429.15 128.40,430.55 128.83,431.96 129.26,433.36 129.69,434.76 130.12,436.15 130.55,437.52 130.98,438.87 131.41,440.18 131.83,441.46 132.26,442.71 132.69,443.91 133.12,445.06 133.55,446.15 133.98,447.19 134.41,448.17 134.84,449.08 135.27,449.93 135.69,450.70 136.12,451.39 136.55,452.01 136.98,452.54 137.41,453.00 137.84,453.37 138.27,453.65 138.70,453.84 139.13,453.95 139.56,453.97 139.99,453.90 140.41,453.74 140.84,453.50 141.27,453.16 141.70,452.75 142.13,452.25 142.56,451.66 142.99,451.00 143.42,450.26 143.85,449.45 144.28,448.57 144.70,447.62 145.13,446.60 145.56,445.53 145.99,444.40 146.42,443.22 146.85,442.00 147.28,440.73 147.71,439.43 148.14,438.10 148.56,436.74 148.99,435.36 149.42,433.96 149.85,432.56 150.28,431.15 150.71,429.74 151.14,428.34 151.57,426.96 152.00,425.59 152.43,424.24 152.86,422.93 153.28,421.65 153.71,420.40 154.14,419.20 154.57,418.05 155.00,416.96 155.43,415.92 155.86,414.94 156.29,414.03 156.72,413.18 157.14,412.41 157.57,411.72 158.00,411.10 158.43,410.57 158.86,410.11 159.29,409.75 159.72,409.46 160.15,409.27 160.58,409.16 161.01,409.14 161.44,409.21 161.86,409.37 162.29,409.62 162.72,409.95 163.15,410.37 163.58,410.87 164.01,411.45 164.44,412.11 164.87,412.85 165.30,413.66 165.72,414.55 166.15,415.50 166.58,416.51 167.01,417.58 167.44,418.71 167.87,419.89 168.30,421.12 168.73,422.38 169.16,423.68 169.59,425.02 170.01,426.38 170.44,427.76 170.87,429.15 171.30,430.56 171.73,431.96 172.16,433.37 172.59,434.77 173.02,436.16 173.45,437.53 173.88,438.87 174.31,440.19 174.73,441.47 175.16,442.71 175.59,443.91 176.02,445.06 176.45,446.16 176.88,447.20 177.31,448.18 177.74,449.09 178.17,449.93 178.59,450.70 179.02,451.40 179.45,452.01 179.88,452.55 180.31,453.00 180.74,453.37 181.17,453.65 181.60,453.85 182.03,453.95 182.46,453.97 182.88,453.90 183.31,453.74 183.74,453.50 184.17,453.17 184.60,452.75 185.03,452.25 185.46,451.67 185.89,451.00 186.32,450.26 186.75,449.45 187.18,448.57 187.60,447.62 188.03,446.61 188.46,445.53 188.89,444.40 189.32,443.22 189.75,442.00 190.18,440.73 190.61,439.43 191.04,438.10 191.47,436.74 191.89,435.36 192.32,433.96 192.75,432.56 193.18,431.15 193.61,429.74 194.04,428.35 194.47,426.96 194.90,425.59 195.33,424.24 195.75,422.93 196.18,421.65 196.61,420.40 197.04,419.20 197.47,418.05 197.90,416.96 198.33,415.92 198.76,414.94 199.19,414.03 199.62,413.19 200.04,412.42 200.47,411.72 200.90,411.10 201.33,410.57 201.76,410.12 202.19,409.75 202.62,409.46 203.05,409.27 203.48,409.16 203.91,409.14 204.34,409.21 204.76,409.37 205.19,409.62 205.62,409.95 206.05,410.37 206.48,410.87 206.91,411.45 207.34,412.11 207.77,412.85 208.20,413.66 208.62,414.55 209.05,415.50 209.48,416.51 209.91,417.58 210.34,418.71 210.77,419.89 211.20,421.12 211.63,422.38 212.06,423.68 212.49,425.02 212.91,426.38 213.34,427.76 213.77,429.15 214.20,430.56 214.63,431.96 215.06,433.37 215.49,434.77 215.92,436.16 216.35,437.53 216.78,438.87 217.21,440.19 217.63,441.47 218.06,442.71 218.49,443.91 218.92,445.06 219.35,446.16 219.78,447.20 220.21,448.18 220.64,449.09 221.07,449.93 221.50,450.70 221.92,451.40 222.35,452.01 222.78,452.55 223.21,453.00 223.64,453.37 224.07,453.65 224.50,453.85 224.93,453.95 225.36,453.97 225.78,453.90 226.21,453.74 226.64,453.50 227.07,453.17 227.50,452.75 227.93,452.25 228.36,451.67 228.79,451.00 229.22,450.26 229.65,449.45 230.07,448.57 230.50,447.62 230.93,446.61 231.36,445.53 231.79,444.40 232.22,443.22 232.65,442.00 233.08,440.73 233.51,439.43 233.94,438.10 234.37,436.74 234.79,435.36 235.22,433.96 235.65,432.56 236.08,431.15 236.51,429.74 236.94,428.35 237.37,426.96 237.80,425.59 238.23,424.25 238.66,422.93 239.08,421.65 239.51,420.40 239.94,419.20 240.37,418.05 240.80,416.96 241.23,415.92 241.66,414.94 242.09,414.03 242.52,413.19 242.94,412.42 243.37,411.72 243.80,411.10 244.23,410.57 244.66,410.12 245.09,409.75 245.52,409.46 245.95,409.27 246.38,409.16 246.81,409.14 247.24,409.21 247.66,409.37 248.09,409.62 248.52,409.95 248.95,410.37 249.38,410.87 249.81,411.45 250.24,412.11 250.67,412.85 251.10,413.66 251.53,414.55 251.95,415.50 252.38,416.51 252.81,417.58 253.24,418.71 253.67,419.89 254.10,421.12 254.53,422.38 254.96,423.68 255.39,425.02 255.81,426.38 256.24,427.76 256.67,429.15 257.10,430.56 257.53,431.96 257.96,433.37 258.39,434.77 258.82,436.16 259.25,437.53 259.68,438.87 260.11,440.19 260.53,441.47 260.96,442.71 261.39,443.91 261.82,445.06 262.25,446.16 262.68,447.20 263.11,448.18 263.54,449.09 263.97,449.93 264.39,450.70 264.82,451.40 265.25,452.01 265.68,452.55 266.11,453.00 266.54,453.37 266.97,453.65 267.40,453.85 267.83,453.95 268.26,453.97 268.69,453.90 269.11,453.74 269.54,453.50 269.97,453.17 270.40,452.75 270.83,452.25 271.26,451.67 271.69,451.00 272.12,450.26 272.55,449.45 272.98,448.57 273.40,447.62 273.83,446.61 274.26,445.53 274.69,444.40 275.12,443.22 275.55,442.00 275.98,440.73 276.41,439.43 276.84,438.10 277.26,436.74 277.69,435.36 278.12,433.96 278.55,432.56 278.98,431.15 279.41,429.74 279.84,428.35 280.27,426.96 280.70,425.59 281.13,424.25 281.56,422.93 281.98,421.65 282.41,420.40 282.84,419.20 283.27,418.05 283.70,416.96 284.13,415.92 284.56,414.94 284.99,414.03 285.42,413.19 285.85,412.42 286.27,411.72 286.70,411.10 287.13,410.57 287.56,410.12 287.99,409.75 288.42,409.46 288.85,409.27 289.28,409.16 289.71,409.14 290.13,409.21 290.56,409.37 290.99,409.62 291.42,409.95 291.85,410.37 292.28,410.87 292.71,411.45 293.14,412.11 293.57,412.85 294.00,413.66 294.43,414.55 294.85,415.50 295.28,416.51 295.71,417.58 296.14,418.71 296.57,419.89 297.00,421.12 297.43,422.38 297.86,423.68 298.29,425.02 298.72,426.38 299.14,427.76 299.57,429.15 300.00,430.56 300.43,431.96 300.86,433.37 301.29,434.77 301.72,436.16 302.15,437.53 302.58,438.87 303.00,440.19 303.43,441.47 303.86,442.71 304.29,443.91 304.72,445.06 305.15,446.16 305.58,447.20 306.01,448.18 306.44,449.09 306.87,449.93 307.30,450.70 307.72,451.40 308.15,452.01 308.58,452.55 309.01,453.00 309.44,453.37 309.87,453.65 310.30,453.85 310.73,453.95 311.16,453.97 311.58,453.90 312.01,453.74 312.44,453.50 312.87,453.17 313.30,452.75 313.73,452.25 314.16,451.67 314.59,451.00 315.02,450.26 315.45,449.45 315.88,448.57 316.30,447.62 316.73,446.61 317.16,445.53 317.59,444.40 318.02,443.22 318.45,442.00 318.88,440.73 319.31,439.43 319.74,438.10 320.17,436.74 320.59,435.36 321.02,433.96 321.45,432.56 321.88,431.15 322.31,429.72 322.74,428.22 323.17,426.75 323.60,425.31 324.03,423.90 324.45,422.53 324.88,421.20 325.31,419.92 325.74,418.68 326.17,417.50 326.60,416.37 327.03,415.31 327.46,414.31 327.89,413.38 328.32,412.52 328.75,411.74 329.17,411.03 329.60,410.39 330.03,409.83 330.46,409.33 330.89,408.90 331.32,408.52 331.75,408.19 332.18,407.91 332.61,407.66 333.04,407.45 333.46,407.27 333.89,407.12 334.32,406.98 334.75,406.87 335.18,406.78 335.61,406.70 336.04,406.63 336.47,406.57 336.90,406.52 337.32,406.48 337.75,406.44 338.18,406.41 338.61,406.39 339.04,406.37 339.47,406.35 339.90,406.34 340.33,406.32 340.76,406.31 341.19,406.30 341.62,406.30 342.04,406.29 342.47,406.29 342.90,406.28 343.33,406.28 343.76,406.27 344.19,406.27 344.62,406.27 345.05,406.27 345.48,406.27 345.90,406.27 346.33,406.26 346.76,406.26 347.19,406.26 347.62,406.26 348.05,406.26 348.48,406.26 348.91,406.26 349.34,406.26 349.77,406.26 350.19,406.26 350.62,406.26 351.05,406.26 351.48,406.26 351.91,406.26 352.34,406.26 352.77,406.26 353.20,406.26 353.63,406.26 354.06,406.26 354.49,406.26 354.91,406.26 355.34,406.26 355.77,406.26 356.20,406.26 356.63,406.26 357.06,406.26 357.49,406.26 357.92,406.26 358.35,406.26 358.77,406.26 359.20,406.26 359.63,406.26 360.06,406.26 360.49,406.26 360.92,406.26 361.35,406.26 361.78,406.26 362.21,406.26 362.64,406.26 363.06,406.26 363.49,406.26 363.92,406.26 364.35,406.26 364.78,406.26 365.21,406.26 365.64,406.26 366.07,406.26 366.50,406.26 366.93,406.26 367.36,406.26 367.78,406.26 368.21,406.26 368.64,406.26 369.07,406.26 369.50,406.26"/>
<polyline stroke="#ff00ff" stroke-dasharray="4.3 1.4 1.7 1.5" points="47.75,408.89 48.18,407.85 48.61,406.99 49.04,406.29 49.47,405.71 49.90,405.24 50.32,404.86 50.75,404.55 51.18,404.31 51.61,404.13 52.04,403.98 52.47,403.88 52.90,403.80 53.33,403.76 53.76,403.73 54.19,403.72 54.61,403.73 55.04,403.74 55.47,403.77 55.90,403.80 56.33,403.84 56.76,403.89 57.19,403.94 57.62,403.99 58.05,404.04 58.48,404.10 58.90,404.15 59.33,404.21 59.76,404.27 60.19,404.32 60.62,404.38 61.05,404.44 61.48,404.49 61.91,404.54 62.34,404.60 62.77,404.65 63.19,404.70 63.62,404.75 64.05,404.79 64.48,404.84 64.91,404.89 65.34,404.93 65.77,404.97 66.20,405.01 66.63,405.05 67.06,405.09 67.48,405.13 67.91,405.17 68.34,405.20 68.77,405.24 69.20,405.27 69.63,405.30 70.06,405.33 70.49,405.36 70.92,405.39 71.34,405.42 71.77,405.45 72.20,405.47 72.63,405.50 73.06,405.53 73.49,405.55 73.92,405.58 74.35,405.62 74.78,405.66 75.21,405.72 75.64,405.80 76.06,406.00 76.49,406.22 76.92,406.46 77.35,406.73 77.78,407.04 78.21,407.38 78.64,407.77 79.07,408.21 79.50,408.70 79.92,409.24 80.35,409.84 80.78,410.49 81.21,411.21 81.64,411.98 82.07,412.80 82.50,413.69 82.93,414.63 83.36,415.62 83.79,416.66 84.22,417.76 84.64,418.89 85.07,420.07 85.50,421.29 85.93,422.54 86.36,423.82 86.79,425.13 87.22,426.46 87.65,427.80 88.08,429.15 88.50,430.51 88.93,431.88 89.36,433.24 89.79,434.59 90.22,435.92 90.65,437.24 91.08,438.53 91.51,439.79 91.94,441.02 92.37,442.21 92.80,443.36 93.22,444.46 93.65,445.51 94.08,446.50 94.51,447.43 94.94,448.30 95.37,449.10 95.80,449.83 96.23,450.49 96.66,451.07 97.09,451.58 97.51,452.00 97.94,452.35 98.37,452.61 98.80,452.79 99.23,452.88 99.66,452.89 100.09,452.82 100.52,452.66 100.95,452.41 101.38,452.09 101.80,451.68 102.23,451.19 102.66,450.62 103.09,449.98 103.52,449.27 103.95,448.48 104.38,447.63 104.81,446.72 105.24,445.74 105.66,444.71 106.09,443.62 106.52,442.49 106.95,441.32 107.38,440.10 107.81,438.85 108.24,437.58 108.67,436.28 109.10,434.96 109.53,433.62 109.95,432.28 110.38,430.93 110.81,429.59 111.24,428.26 111.67,426.93 112.10,425.63 112.53,424.35 112.96,423.09 113.39,421.88 113.82,420.69 114.25,419.55 114.67,418.46 115.10,417.42 115.53,416.44 115.96,415.51 116.39,414.65 116.82,413.86 117.25,413.13 117.68,412.48 118.11,411.90 118.53,411.40 118.96,410.98 119.39,410.64 119.82,410.38 120.25,410.21 120.68,410.12 121.11,410.11 121.54,410.19 121.97,410.36 122.40,410.60 122.83,410.93 123.25,411.34 123.68,411.84 124.11,412.40 124.54,413.05 124.97,413.77 125.40,414.55 125.83,415.41 126.26,416.33 126.69,417.30 127.11,418.34 127.54,419.42 127.97,420.56 128.40,421.74 128.83,422.95 129.26,424.20 129.69,425.48 130.12,426.79 130.55,428.11 130.98,429.44 131.41,430.79 131.83,432.13 132.26,433.48 132.69,434.81 133.12,436.14 133.55,437.44 133.98,438.73 134.41,439.98 134.84,441.20 135.27,442.39 135.69,443.53 136.12,444.62 136.55,445.66 136.98,446.65 137.41,447.57 137.84,448.43 138.27,449.23 138.70,449.96 139.13,450.61 139.56,451.19 139.99,451.69 140.41,452.11 140.84,452.45 141.27,452.71 141.70,452.89 142.13,452.98 142.56,452.98 142.99,452.90 143.42,452.74 143.85,452.49 144.28,452.16 144.70,451.75 145.13,451.26 145.56,450.70 145.99,450.05 146.42,449.33 146.85,448.55 147.28,447.69 147.71,446.78 148.14,445.80 148.56,444.77 148.99,443.68 149.42,442.55 149.85,441.37 150.28,440.15 150.71,438.90 151.14,437.62 151.57,436.32 152.00,435.00 152.43,433.66 152.86,432.32 153.28,430.97 153.71,429.63 154.14,428.29 154.57,426.97 155.00,425.66 155.43,424.38 155.86,423.13 156.29,421.91 156.72,420.72 157.14,419.58 157.57,418.49 158.00,417.45 158.43,416.46 158.86,415.54 159.29,414.68 159.72,413.88 160.15,413.15 160.58,412.50 161.01,411.92 161.44,411.42 161.86,411.00 162.29,410.66 162.72,410.40 163.15,410.23 163.58,410.14 164.01,410.13 164.44,410.21 164.87,410.37 165.30,410.62 165.72,410.95 166.15,411.36 166.58,411.85 167.01,412.42 167.44,413.06 167.87,413.78 168.30,414.57 168.73,415.42 169.16,416.34 169.59,417.31 170.01,418.35 170.44,419.43 170.87,420.57 171.30,421.75 171.73,422.96 172.16,424.21 172.59,425.49 173.02,426.79 173.45,428.12 173.88,429.45 174.31,430.79 174.73,432.14 175.16,433.49 175.59,434.82 176.02,436.15 176.45,437.45 176.88,438.73 177.31,439.99 177.74,441.21 178.17,442.39 178.59,443.53 179.02,444.62 179.45,445.67 179.88,446.65 180.31,447.58 180.74,448.44 181.17,449.24 181.60,449.96 182.03,450.62 182.46,451.19 182.88,451.70 183.31,452.12 183.74,452.46 184.17,452.72 184.60,452.89 185.03,452.98 185.46,452.99 185.89,452.91 186.32,452.74 186.75,452.50 187.18,452.17 187.60,451.76 188.03,451.27 188.46,450.70 188.89,450.05 189.32,449.34 189.75,448.55 190.18,447.70 190.61,446.78 191.04,445.80 191.47,444.77 191.89,443.68 192.32,442.55 192.75,441.37 193.18,440.15 193.61,438.90 194.04,437.62 194.47,436.32 194.90,435.00 195.33,433.67 195.75,432.32 196.18,430.97 196.61,429.63 197.04,428.29 197.47,426.97 197.90,425.66 198.33,424.38 198.76,423.13 199.19,421.91 199.62,420.72 200.04,419.58 200.47,418.49 200.90,417.45 201.33,416.46 201.76,415.54 202.19,414.68 202.62,413.88 203.05,413.15 203.48,412.50 203.91,411.92 204.34,411.42 204.76,411.00 205.19,410.66 205.62,410.40 206.05,410.23 206.48,410.14 206.91,410.13 207.34,410.21 207.77,410.37 208.20,410.62 208.62,410.95 209.05,411.36 209.48,411.85 209.91,412.42 210.34,413.06 210.77,413.78 211.20,414.57 211.63,415.42 212.06,416.34 212.49,417.31 212.91,418.35 213.34,419.43 213.77,420.57 214.20,421.75 214.63,422.96 215.06,424.21 215.49,425.49 215.92,426.79 216.35,428.12 216.78,429.45 217.21,430.79 217.63,432.14 218.06,433.49 218.49,434.82 218.92,436.15 219.35,437.45 219.78,438.73 220.21,439.99 220.64,441.21 221.07,442.39 221.50,443.53 221.92,444.62 222.35,445.67 222.78,446.65 223.21,447.58 223.64,448.44 224.07,449.24 224.50,449.96 224.93,450.62 225.36,451.19 225.78,451.70 226.21,452.12 226.64,452.46 227.07,452.72 227.50,452.89 227.93,452.98 228.36,452.99 228.79,452.91 229.22,452.74 229.65,452.50 230.07,452.17 230.50,451.76 230.93,451.27 231.36,450.70 231.79,450.05 232.22,449.34 232.65,448.55 233.08,447.70 233.51,446.78 233.94,445.80 234.37,444.77 234.79,443.68 235.22,442.55 235.65,441.37 236.08,440.15 236.51,438.90 236.94,437.62 237.37,436.32 237.80,435.00 238.23,433.67 238.66,432.32 239.08,430.97 239.51,429.63 239.94,428.29 240.37,426.97 240.80,425.66 241.23,424.38 241.66,423.13 242.09,421.91 242.52,420.72 242.94,419.58 243.37,418.49 243.80,417.45 244.23,416.46 244.66,415.54 245.09,414.68 245.52,413.88 245.95,413.15 246.38,412.50 246.81,411.92 247.24,411.42 247.66,411.00 248.09,410.66 248.52,410.40 248.95,410.23 249.38,410.14 249.81,410.13 250.24,410.21 250.67,410.37 251.10,410.62 251.53,410.95 251.95,411.36 252.38,411.85 252.81,412.42 253.24,413.06 253.67,413.78 254.10,414.57 254.53,415.42 254.96,416.34 255.39,417.31 255.81,418.35 256.24,419.43 256.67,420.57 257.10,421.75 257.53,422.96 257.96,424.21 258.39,425.49 258.82,426.79 259.25,428.12 259.68,429.45 260.11,430.79 260.53,432.14 260.96,433.49 261.39,434.82 261.82,436.15 262.25,437.45 262.68,438.73 263.11,439.99 263.54,441.21 263.97,442.39 264.39,443.53 264.82,444.62 265.25,445.67 265.68,446.65 266.11,447.58 266.54,448.44 266.97,449.24 267.40,449.96 267.83,450.62 268.26,451.19 268.69,451.70 269.11,452.12 269.54,452.46 269.97,452.72 270.40,452.89 270.83,452.98 271.26,452.99 271.69,452.91 272.12,452.74 272.55,452.50 272.98,452.17 273.40,451.76 273.83,451.27 274.26,450.70 274.69,450.05 275.12,449.34 275.55,448.55 275.98,447.70 276.41,446.78 276.84,445.80 277.26,444.77 277.69,443.68 278.12,442.55 278.55,441.37 278.98,440.15 279.41,438.90 279.84,437.62 280.27,436.32 280.70,435.00 281.13,433.67 281.56,432.32 281.98,430.97 282.41,429.63 282.84,428.29 283.27,426.97 283.70,425.66 284.13,424.38 284.56,423.13 284.99,421.91 285.42,420.72 285.85,419.58 286.27,418.49 286.70,417.45 287.13,416.46 287.56,415.54 287.99,414.68 288.42,413.88 288.85,413.15 289.28,412.50 289.71,411.92 290.13,411.42 290.56,411.00 290.99,410.66 291.42,410.40 291.85,410.23 292.28,410.14 292.71,410.13 293.14,410.21 293.57,410.37 294.00,410.62 294.43,410.95 294.85,411.36 295.28,411.85 295.71,412.42 296.14,413.06 296.57,413.78 297.00,414.57 297.43,415.42 297.86,416.34 298.29,417.31 298.72,418.35 299.14,419.43 299.57,420.57 300.00,421.75 300.43,422.96 300.86,424.21 301.29,425.49 301.72,426.79 302.15,428.12 302.58,429.45 303.00,430.79 303.43,432.14 303.86,433.49 304.29,434.82 304.72,436.15 305.15,437.45 305.58,438.73 306.01,439.99 306.44,441.21 306.87,442.39 307.30,443.53 307.72,444.62 308.15,445.67 308.58,446.65 309.01,447.58 309.44,448.44 309.87,449.24 310.30,449.96 310.73,450.62 311.16,451.19 311.58,451.70 312.01,452.12 312.44,452.46 312.87,452.72 313.30,452.89 313.73,452.98 314.16,452.99 314.59,452.91 315.02,452.74 315.45,452.50 315.88,452.17 316.30,451.76 316.73,451.27 317.16,450.70 317.59,450.05 318.02,449.34 318.45,448.55 318.88,447.70 319.31,446.78 319.74,445.80 320.17,444.77 320.59,443.68 321.02,442.55 321.45,441.37 321.88,440.15 322.31,438.88 322.74,437.50 323.17,436.12 323.60,434.72 324.03,433.32 324.45,431.93 324.88,430.53 325.31,429.14 325.74,427.77 326.17,426.41 326.60,425.08 327.03,423.77 327.46,422.50 327.89,421.26 328.32,420.06 328.75,418.90 329.17,417.80 329.60,416.75 330.03,415.75 330.46,414.82 330.89,413.94 331.32,413.14 331.75,412.39 332.18,411.71 332.61,411.09 333.04,410.52 333.46,410.02 333.89,409.56 334.32,409.15 334.75,408.79 335.18,408.47 335.61,408.18 336.04,407.93 336.47,407.71 336.90,407.51 337.32,407.34 337.75,407.19 338.18,407.06 338.61,406.95 339.04,406.85 339.47,406.77 339.90,406.70 340.33,406.63 340.76,406.58 341.19,406.53 341.62,406.49 342.04,406.46 342.47,406.43 342.90,406.40 343.33,406.38 343.76,406.36 344.19,406.35 344.62,406.33 345.05,406.32 345.48,406.31 345.90,406.31 346.33,406.30 346.76,406.29 347.19,406.29 347.62,406.28 348.05,406.28 348.48,406.28 348.91,406.27 349.34,406.27 349.77,406.27 350.19,406.27 350.62,406.27 351.05,406.27 351.48,406.26 351.91,406.26 352.34,406.26 352.77,406.26 353.20,406.26 353.63,406.26 354.06,406.26 354.49,406.26 354.91,406.26 355.34,406.26 355.77,406.26 356.20,406.26 356.63,406.26 357.06,406.26 357.49,406.26 357.92,406.26 358.35,406.26 358.77,406.26 359.20,406.26 359.63,406.26 360.06,406.26 360.49,406.26 360.92,406.26 361.35,406.26 361.78,406.26 362.21,406.26 362.64,406.26 363.06,406.26 363.49,406.26 363.92,406.26 364.35,406.26 364.78,406.26 365.21,406.26 365.64,406.26 366.07,406.26 366.50,406.26 366.93,406.26 367.36,406.26 367.78,406.26 368.21,406.26 368.64,406.26 369.07,406.26 369.50,406.26"/>
<polyline stroke="#00ff00" stroke-width="1.8" stroke-dasharray="1.15 1.05" points="47.75,409.76 48.18,408.38 48.61,407.24 49.04,406.29 49.47,405.52 49.90,404.90 50.32,404.39 50.75,403.98 51.18,403.66 51.61,403.41 52.04,403.23 52.47,403.08 52.90,402.99 53.33,402.92 53.76,402.89 54.19,402.87 54.61,402.88 55.04,402.90 55.47,402.94 55.90,402.98 56.33,403.04 56.76,403.10 57.19,403.16 57.62,403.23 58.05,403.30 58.48,403.38 58.90,403.45 59.33,403.53 59.76,403.60 60.19,403.68 60.62,403.75 61.05,403.83 61.48,403.90 61.91,403.97 62.34,404.04 62.77,404.11 63.19,404.18 63.62,404.24 64.05,404.30 64.48,404.37 64.91,404.43 65.34,404.49 65.77,404.54 66.20,404.60 66.63,404.65 67.06,404.70 67.48,404.75 67.91,404.80 68.34,404.85 68.77,404.89 69.20,404.94 69.63,404.98 70.06,405.02 70.49,405.06 70.92,405.10 71.34,405.14 71.77,405.18 72.20,405.21 72.63,405.25 73.06,405.28 73.49,405.31 73.92,405.34 74.35,405.37 74.78,405.40 75.21,405.43 75.64,405.47 76.06,405.60 76.49,405.73 76.92,405.85 77.35,405.98 77.78,406.12 78.21,406.26 78.64,406.43 79.07,406.61 79.50,406.83 79.92,407.07 80.35,407.35 80.78,407.66 81.21,408.02 81.64,408.42 82.07,408.88 82.50,409.38 82.93,409.93 83.36,410.54 83.79,411.20 84.22,411.91 84.64,412.68 85.07,413.51 85.50,414.38 85.93,415.31 86.36,416.28 86.79,417.30 87.22,418.37 87.65,419.48 88.08,420.62 88.50,421.80 88.93,423.01 89.36,424.25 89.79,425.51 90.22,426.79 90.65,428.08 91.08,429.39 91.51,430.69 91.94,432.00 92.37,433.30 92.80,434.60 93.22,435.88 93.65,437.13 94.08,438.37 94.51,439.58 94.94,440.75 95.37,441.88 95.80,442.98 96.23,444.02 96.66,445.02 97.09,445.96 97.51,446.84 97.94,447.66 98.37,448.42 98.80,449.11 99.23,449.73 99.66,450.28 100.09,450.75 100.52,451.15 100.95,451.47 101.38,451.71 101.80,451.87 102.23,451.94 102.66,451.94 103.09,451.86 103.52,451.69 103.95,451.45 104.38,451.13 104.81,450.72 105.24,450.25 105.66,449.70 106.09,449.07 106.52,448.38 106.95,447.62 107.38,446.80 107.81,445.91 108.24,444.97 108.67,443.98 109.10,442.94 109.53,441.85 109.95,440.72 110.38,439.55 110.81,438.35 111.24,437.13 111.67,435.88 112.10,434.62 112.53,433.34 112.96,432.06 113.39,430.77 113.82,429.49 114.25,428.21 114.67,426.95 115.10,425.71 115.53,424.49 115.96,423.29 116.39,422.13 116.82,421.01 117.25,419.92 117.68,418.89 118.11,417.90 118.53,416.97 118.96,416.09 119.39,415.28 119.82,414.52 120.25,413.84 120.68,413.23 121.11,412.68 121.54,412.22 121.97,411.83 122.40,411.51 122.83,411.28 123.25,411.12 123.68,411.05 124.11,411.06 124.54,411.14 124.97,411.31 125.40,411.56 125.83,411.89 126.26,412.29 126.69,412.77 127.11,413.33 127.54,413.95 127.97,414.65 128.40,415.41 128.83,416.24 129.26,417.12 129.69,418.07 130.12,419.06 130.55,420.11 130.98,421.20 131.41,422.33 131.83,423.50 132.26,424.70 132.69,425.93 133.12,427.17 133.55,428.44 133.98,429.72 134.41,431.01 134.84,432.29 135.27,433.58 135.69,434.86 136.12,436.12 136.55,437.36 136.98,438.59 137.41,439.78 137.84,440.95 138.27,442.07 138.70,443.15 139.13,444.19 139.56,445.18 139.99,446.12 140.41,446.99 140.84,447.81 141.27,448.56 141.70,449.25 142.13,449.86 142.56,450.40 142.99,450.87 143.42,451.26 143.85,451.58 144.28,451.81 144.70,451.97 145.13,452.04 145.56,452.04 145.99,451.95 146.42,451.78 146.85,451.54 147.28,451.21 147.71,450.81 148.14,450.33 148.56,449.77 148.99,449.15 149.42,448.45 149.85,447.69 150.28,446.86 150.71,445.98 151.14,445.04 151.57,444.04 152.00,442.99 152.43,441.90 152.86,440.77 153.28,439.60 153.71,438.41 154.14,437.18 154.57,435.93 155.00,434.66 155.43,433.39 155.86,432.10 156.29,430.81 156.72,429.53 157.14,428.25 157.57,426.99 158.00,425.74 158.43,424.52 158.86,423.33 159.29,422.16 159.72,421.04 160.15,419.95 160.58,418.92 161.01,417.93 161.44,416.99 161.86,416.12 162.29,415.30 162.72,414.55 163.15,413.86 163.58,413.25 164.01,412.71 164.44,412.24 164.87,411.85 165.30,411.53 165.72,411.30 166.15,411.14 166.58,411.07 167.01,411.07 167.44,411.16 167.87,411.33 168.30,411.58 168.73,411.90 169.16,412.31 169.59,412.79 170.01,413.34 170.44,413.97 170.87,414.66 171.30,415.42 171.73,416.25 172.16,417.14 172.59,418.08 173.02,419.07 173.45,420.12 173.88,421.21 174.31,422.34 174.73,423.51 175.16,424.71 175.59,425.94 176.02,427.18 176.45,428.45 176.88,429.73 177.31,431.01 177.74,432.30 178.17,433.59 178.59,434.86 179.02,436.13 179.45,437.37 179.88,438.59 180.31,439.79 180.74,440.95 181.17,442.08 181.60,443.16 182.03,444.20 182.46,445.19 182.88,446.12 183.31,447.00 183.74,447.81 184.17,448.57 184.60,449.25 185.03,449.86 185.46,450.41 185.89,450.88 186.32,451.27 186.75,451.58 187.18,451.82 187.60,451.97 188.03,452.05 188.46,452.04 188.89,451.95 189.32,451.79 189.75,451.54 190.18,451.21 190.61,450.81 191.04,450.33 191.47,449.77 191.89,449.15 192.32,448.45 192.75,447.69 193.18,446.87 193.61,445.98 194.04,445.04 194.47,444.04 194.90,443.00 195.33,441.91 195.75,440.77 196.18,439.61 196.61,438.41 197.04,437.18 197.47,435.93 197.90,434.67 198.33,433.39 198.76,432.10 199.19,430.81 199.62,429.53 200.04,428.25 200.47,426.99 200.90,425.74 201.33,424.52 201.76,423.33 202.19,422.16 202.62,421.04 203.05,419.96 203.48,418.92 203.91,417.93 204.34,416.99 204.76,416.12 205.19,415.30 205.62,414.55 206.05,413.87 206.48,413.25 206.91,412.71 207.34,412.24 207.77,411.85 208.20,411.53 208.62,411.30 209.05,411.14 209.48,411.07 209.91,411.08 210.34,411.16 210.77,411.33 211.20,411.58 211.63,411.90 212.06,412.31 212.49,412.79 212.91,413.34 213.34,413.97 213.77,414.66 214.20,415.42 214.63,416.25 215.06,417.14 215.49,418.08 215.92,419.07 216.35,420.12 216.78,421.21 217.21,422.34 217.63,423.51 218.06,424.71 218.49,425.94 218.92,427.18 219.35,428.45 219.78,429.73 220.21,431.01 220.64,432.30 221.07,433.59 221.50,434.86 221.92,436.13 222.35,437.37 222.78,438.59 223.21,439.79 223.64,440.95 224.07,442.08 224.50,443.16 224.93,444.20 225.36,445.19 225.78,446.12 226.21,447.00 226.64,447.81 227.07,448.57 227.50,449.25 227.93,449.87 228.36,450.41 228.79,450.88 229.22,451.27 229.65,451.58 230.07,451.82 230.50,451.97 230.93,452.05 231.36,452.04 231.79,451.95 232.22,451.79 232.65,451.54 233.08,451.21 233.51,450.81 233.94,450.33 234.37,449.77 234.79,449.15 235.22,448.45 235.65,447.69 236.08,446.87 236.51,445.98 236.94,445.04 237.37,444.04 237.80,443.00 238.23,441.91 238.66,440.77 239.08,439.61 239.51,438.41 239.94,437.18 240.37,435.93 240.80,434.67 241.23,433.39 241.66,432.10 242.09,430.81 242.52,429.53 242.94,428.25 243.37,426.99 243.80,425.74 244.23,424.52 244.66,423.33 245.09,422.16 245.52,421.04 245.95,419.96 246.38,418.92 246.81,417.93 247.24,416.99 247.66,416.12 248.09,415.30 248.52,414.55 248.95,413.87 249.38,413.25 249.81,412.71 250.24,412.24 250.67,411.85 251.10,411.53 251.53,411.30 251.95,411.14 252.38,411.07 252.81,411.08 253.24,411.16 253.67,411.33 254.10,411.58 254.53,411.90 254.96,412.31 255.39,412.79 255.81,413.34 256.24,413.97 256.67,414.66 257.10,415.42 257.53,416.25 257.96,417.14 258.39,418.08 258.82,419.07 259.25,420.12 259.68,421.21 260.11,422.34 260.53,423.51 260.96,424.71 261.39,425.94 261.82,427.18 262.25,428.45 262.68,429.73 263.11,431.01 263.54,432.30 263.97,433.59 264.39,434.86 264.82,436.13 265.25,437.37 265.68,438.59 266.11,439.79 266.54,440.95 266.97,442.08 267.40,443.16 267.83,444.20 268.26,445.19 268.69,446.12 269.11,447.00 269.54,447.81 269.97,448.57 270.40,449.25 270.83,449.87 271.26,450.41 271.69,450.88 272.12,451.27 272.55,451.58 272.98,451.82 273.40,451.97 273.83,452.05 274.26,452.04 274.69,451.95 275.12,451.79 275.55,451.54 275.98,451.21 276.41,450.81 276.84,450.33 277.26,449.77 277.69,449.15 278.12,448.45 278.55,447.69 278.98,446.87 279.41,445.98 279.84,445.04 280.27,444.04 280.70,443.00 281.13,441.91 281.56,440.77 281.98,439.61 282.41,438.41 282.84,437.18 283.27,435.93 283.70,434.67 284.13,433.39 284.56,432.10 284.99,430.81 285.42,429.53 285.85,428.25 286.27,426.99 286.70,425.74 287.13,424.52 287.56,423.33 287.99,422.16 288.42,421.04 288.85,419.96 289.28,418.92 289.71,417.93 290.13,416.99 290.56,416.12 290.99,415.30 291.42,414.55 291.85,413.87 292.28,413.25 292.71,412.71 293.14,412.24 293.57,411.85 294.00,411.53 294.43,411.30 294.85,411.14 295.28,411.07 295.71,411.08 296.14,411.16 296.57,411.33 297.00,411.58 297.43,411.90 297.86,412.31 298.29,412.79 298.72,413.34 299.14,413.97 299.57,414.66 300.00,415.42 300.43,416.25 300.86,417.14 301.29,418.08 301.72,419.07 302.15,420.12 302.58,421.21 303.00,422.34 303.43,423.51 303.86,424.71 304.29,425.94 304.72,427.18 305.15,428.45 305.58,429.73 306.01,431.01 306.44,432.30 306.87,433.59 307.30,434.86 307.72,436.13 308.15,437.37 308.58,438.59 309.01,439.79 309.44,440.95 309.87,442.08 310.30,443.16 310.73,444.20 311.16,445.19 311.58,446.12 312.01,447.00 312.44,447.81 312.87,448.57 313.30,449.25 313.73,449.87 314.16,450.41 314.59,450.88 315.02,451.27 315.45,451.58 315.88,451.82 316.30,451.97 316.73,452.05 317.16,452.04 317.59,451.95 318.02,451.79 318.45,451.54 318.88,451.21 319.31,450.81 319.74,450.33 320.17,449.77 320.59,449.15 321.02,448.45 321.45,447.69 321.88,446.87 322.31,445.95 322.74,444.92 323.17,443.84 323.60,442.72 324.03,441.56 324.45,440.38 324.88,439.16 325.31,437.92 325.74,436.66 326.17,435.38 326.60,434.08 327.03,432.78 327.46,431.47 327.89,430.17 328.32,428.86 328.75,427.57 329.17,426.30 329.60,425.04 330.03,423.81 330.46,422.61 330.89,421.44 331.32,420.30 331.75,419.21 332.18,418.17 332.61,417.18 333.04,416.23 333.46,415.34 333.89,414.51 334.32,413.73 334.75,413.00 335.18,412.33 335.61,411.71 336.04,411.14 336.47,410.62 336.90,410.15 337.32,409.72 337.75,409.33 338.18,408.98 338.61,408.66 339.04,408.38 339.47,408.13 339.90,407.90 340.33,407.70 340.76,407.52 341.19,407.36 341.62,407.22 342.04,407.10 342.47,406.99 342.90,406.90 343.33,406.81 343.76,406.74 344.19,406.68 344.62,406.62 345.05,406.57 345.48,406.53 345.90,406.49 346.33,406.46 346.76,406.43 347.19,406.41 347.62,406.39 348.05,406.37 348.48,406.35 348.91,406.34 349.34,406.33 349.77,406.32 350.19,406.31 350.62,406.30 351.05,406.30 351.48,406.29 351.91,406.29 352.34,406.28 352.77,406.28 353.20,406.28 353.63,406.27 354.06,406.27 354.49,406.27 354.91,406.27 355.34,406.27 355.77,406.27 356.20,406.27 356.63,406.26 357.06,406.26 357.49,406.26 357.92,406.26 358.35,406.26 358.77,406.26 359.20,406.26 359.63,406.26 360.06,406.26 360.49,406.26 360.92,406.26 361.35,406.26 361.78,406.26 362.21,406.26 362.64,406.26 363.06,406.26 363.49,406.26 363.92,406.26 364.35,406.26 364.78,406.26 365.21,406.26 365.64,406.26 366.07,406.26 366.50,406.26 366.93,406.26 367.36,406.26 367.78,406.26 368.21,406.26 368.64,406.26 369.07,406.26 369.50,406.26"/>
</g>
<g fill="none" stroke-width="1.5">
<path d="M272.8 309.30H299.8" stroke="#00ffff" stroke-width="3.6" />
<path d="M272.8 328.15H299.8" stroke="#ff0000" />
<path d="M272.8 347.00H299.8" stroke="#0000ff" stroke-dasharray="3.6 3.5"/>
<path d="M272.8 365.85H299.8" stroke="#ff00ff" stroke-dasharray="4.3 1.4 1.7 1.5"/>
<path d="M272.8 384.70H299.8" stroke="#00ff00" stroke-width="1.8" stroke-dasharray="1.15 1.05"/>
</g>
<g font-family="'Liberation Sans', Arial, Helvetica, sans-serif" font-size="14.3" fill="#000000" stroke="#000000" stroke-width="0.18">
<text x="303.2" y="314.90">vehicle0</text>
<text x="303.2" y="333.75">vehicle1</text>
<text x="303.2" y="352.60">vehicle2</text>
<text x="303.2" y="371.45">vehicle3</text>
<text x="303.2" y="390.30">vehicle4</text>
</g>
<text x="201.6" y="542.4" text-anchor="middle" font-family="'Liberation Serif', 'Times New Roman', serif" font-size="12" fill="#111">(<tspan font-weight="bold" font-size="13">b</tspan>)</text>
</svg>
</body></html>
